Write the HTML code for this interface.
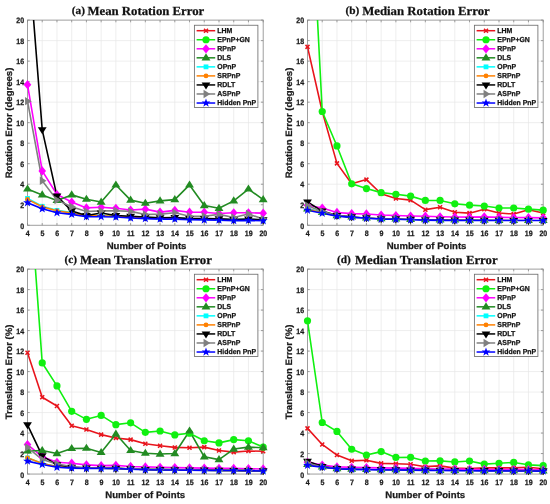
<!DOCTYPE html>
<html lang="en"><head><meta charset="utf-8"><title>PnP error comparison</title>
<style>
html,body{margin:0;padding:0;background:#fff;}
body{width:550px;height:504px;overflow:hidden;}
svg{display:block;}
text{text-rendering:geometricPrecision;stroke:#1a1a1a;stroke-width:0.25px;paint-order:stroke;}
.tk{font-family:"Liberation Sans",Arial,sans-serif;font-weight:bold;font-size:7.8px;fill:#1a1a1a;}
.al{font-family:"Liberation Sans",Arial,sans-serif;font-weight:bold;font-size:9.3px;fill:#1a1a1a;}
.lg{font-family:"Liberation Sans",Arial,sans-serif;font-weight:bold;font-size:7.2px;fill:#111;}
.tt{font-family:"Liberation Serif","Times New Roman",serif;font-weight:bold;font-size:12.35px;fill:#111;}
.tg{font-family:"Liberation Serif","Times New Roman",serif;font-weight:bold;font-size:11px;fill:#111;}
</style></head><body>
<svg width="550" height="504" viewBox="0 0 550 504">
<rect width="550" height="504" fill="#fff"/>
<defs><filter id="soft" x="0" y="0" width="100%" height="100%" filterUnits="userSpaceOnUse" color-interpolation-filters="sRGB"><feGaussianBlur stdDeviation="0.38"/></filter></defs>
<g filter="url(#soft)">
<rect width="550" height="504" fill="#fff"/>
<g id="plot-a">
<clipPath id="clipa"><rect x="27.5" y="20.1" width="235.68" height="205.15"/></clipPath>
<path d="M42.23 20.1V225.25M56.96 20.1V225.25M71.69 20.1V225.25M86.42 20.1V225.25M101.15 20.1V225.25M115.88 20.1V225.25M130.61 20.1V225.25M145.34 20.1V225.25M160.07 20.1V225.25M174.8 20.1V225.25M189.53 20.1V225.25M204.26 20.1V225.25M218.99 20.1V225.25M233.72 20.1V225.25M248.45 20.1V225.25M27.5 204.74H263.18M27.5 184.22H263.18M27.5 163.7H263.18M27.5 143.19H263.18M27.5 122.67H263.18M27.5 102.16H263.18M27.5 81.64H263.18M27.5 61.13H263.18M27.5 40.62H263.18" stroke="#e7e7e7" stroke-width="0.7" fill="none"/>
<rect x="27.5" y="20.1" width="235.68" height="205.15" fill="none" stroke="#8e8e8e" stroke-width="0.85"/>
<path d="M27.5 225.25v-2.2M27.5 20.1v2.2M42.23 225.25v-2.2M42.23 20.1v2.2M56.96 225.25v-2.2M56.96 20.1v2.2M71.69 225.25v-2.2M71.69 20.1v2.2M86.42 225.25v-2.2M86.42 20.1v2.2M101.15 225.25v-2.2M101.15 20.1v2.2M115.88 225.25v-2.2M115.88 20.1v2.2M130.61 225.25v-2.2M130.61 20.1v2.2M145.34 225.25v-2.2M145.34 20.1v2.2M160.07 225.25v-2.2M160.07 20.1v2.2M174.8 225.25v-2.2M174.8 20.1v2.2M189.53 225.25v-2.2M189.53 20.1v2.2M204.26 225.25v-2.2M204.26 20.1v2.2M218.99 225.25v-2.2M218.99 20.1v2.2M233.72 225.25v-2.2M233.72 20.1v2.2M248.45 225.25v-2.2M248.45 20.1v2.2M263.18 225.25v-2.2M263.18 20.1v2.2M27.5 225.25h2.2M263.18 225.25h-2.2M27.5 204.74h2.2M263.18 204.74h-2.2M27.5 184.22h2.2M263.18 184.22h-2.2M27.5 163.7h2.2M263.18 163.7h-2.2M27.5 143.19h2.2M263.18 143.19h-2.2M27.5 122.67h2.2M263.18 122.67h-2.2M27.5 102.16h2.2M263.18 102.16h-2.2M27.5 81.64h2.2M263.18 81.64h-2.2M27.5 61.13h2.2M263.18 61.13h-2.2M27.5 40.62h2.2M263.18 40.62h-2.2M27.5 20.1h2.2M263.18 20.1h-2.2" stroke="#888" stroke-width="0.8" fill="none"/>
<text class="tk" transform="translate(27.7 236.15) scale(0.905 1)" text-anchor="middle">4</text>
<text class="tk" transform="translate(42.43 236.15) scale(0.905 1)" text-anchor="middle">5</text>
<text class="tk" transform="translate(57.16 236.15) scale(0.905 1)" text-anchor="middle">6</text>
<text class="tk" transform="translate(71.89 236.15) scale(0.905 1)" text-anchor="middle">7</text>
<text class="tk" transform="translate(86.62 236.15) scale(0.905 1)" text-anchor="middle">8</text>
<text class="tk" transform="translate(101.35 236.15) scale(0.905 1)" text-anchor="middle">9</text>
<text class="tk" transform="translate(116.08 236.15) scale(0.905 1)" text-anchor="middle">10</text>
<text class="tk" transform="translate(130.81 236.15) scale(0.905 1)" text-anchor="middle">11</text>
<text class="tk" transform="translate(145.54 236.15) scale(0.905 1)" text-anchor="middle">12</text>
<text class="tk" transform="translate(160.27 236.15) scale(0.905 1)" text-anchor="middle">13</text>
<text class="tk" transform="translate(175 236.15) scale(0.905 1)" text-anchor="middle">14</text>
<text class="tk" transform="translate(189.73 236.15) scale(0.905 1)" text-anchor="middle">15</text>
<text class="tk" transform="translate(204.46 236.15) scale(0.905 1)" text-anchor="middle">16</text>
<text class="tk" transform="translate(219.19 236.15) scale(0.905 1)" text-anchor="middle">17</text>
<text class="tk" transform="translate(233.92 236.15) scale(0.905 1)" text-anchor="middle">18</text>
<text class="tk" transform="translate(248.65 236.15) scale(0.905 1)" text-anchor="middle">19</text>
<text class="tk" transform="translate(263.38 236.15) scale(0.905 1)" text-anchor="middle">20</text>
<text class="tk" transform="translate(24.1 229.35) scale(0.905 1)" text-anchor="end">0</text>
<text class="tk" transform="translate(24.1 207.94) scale(0.905 1)" text-anchor="end">2</text>
<text class="tk" transform="translate(24.1 187.42) scale(0.905 1)" text-anchor="end">4</text>
<text class="tk" transform="translate(24.1 166.9) scale(0.905 1)" text-anchor="end">6</text>
<text class="tk" transform="translate(24.1 146.39) scale(0.905 1)" text-anchor="end">8</text>
<text class="tk" transform="translate(24.1 125.88) scale(0.905 1)" text-anchor="end">10</text>
<text class="tk" transform="translate(24.1 105.36) scale(0.905 1)" text-anchor="end">12</text>
<text class="tk" transform="translate(24.1 84.84) scale(0.905 1)" text-anchor="end">14</text>
<text class="tk" transform="translate(24.1 64.33) scale(0.905 1)" text-anchor="end">16</text>
<text class="tk" transform="translate(24.1 43.82) scale(0.905 1)" text-anchor="end">18</text>
<text class="tk" transform="translate(24.1 23.3) scale(0.905 1)" text-anchor="end">20</text>
<text class="al" transform="translate(146.54 248.75) scale(1.03 1)" text-anchor="middle">Number of Points</text>
<text class="al" transform="translate(11.6 122.97) rotate(-90) scale(1.03 1)" text-anchor="middle">Rotation Error (degrees)</text>
<text class="tg" transform="translate(71.8 14.2) scale(1.03 1)">(a)</text>
<text class="tt" transform="translate(87.4 15.1) scale(1.035 1)">Mean Rotation Error</text>
<g clip-path="url(#clipa)">
<polyline points="27.5,84.72 42.23,170.89 56.96,194.48 71.69,202.07 86.42,207.91 101.15,207.3 115.88,208.33 130.61,210.07 145.34,209.15 160.07,212.12 174.8,210.38 189.53,212.22 204.26,212.22 218.99,213.45 233.72,212.74 248.45,212.74 263.18,213.15" fill="none" stroke="#ff00ff" stroke-width="1.6" stroke-linejoin="round"/>
<polyline points="27.5,189.04 42.23,194.89 56.96,200.43 71.69,194.89 86.42,199.2 101.15,202.07 115.88,184.94 130.61,200.12 145.34,203.2 160.07,200.84 174.8,199.61 189.53,184.94 204.26,205.56 218.99,208.33 233.72,200.84 248.45,189.04 263.18,199.61" fill="none" stroke="#228b22" stroke-width="1.6" stroke-linejoin="round"/>
<polyline points="27.5,198.38 42.23,206.27 56.96,210.38 71.69,212.43 86.42,215.51 101.15,215.51 115.88,216.02 130.61,217.04 145.34,217.56 160.07,218.07 174.8,218.07 189.53,218.89 204.26,218.89 218.99,219.1 233.72,219.61 248.45,219.3 263.18,219.92" fill="none" stroke="#00ffff" stroke-width="1.6" stroke-linejoin="round"/>
<polyline points="27.5,199.4 42.23,206.79 56.96,210.89 71.69,212.94 86.42,215.71 101.15,215.71 115.88,216.22 130.61,217.25 145.34,217.76 160.07,218.27 174.8,218.27 189.53,219.1 204.26,219.1 218.99,219.3 233.72,219.81 248.45,219.51 263.18,220.12" fill="none" stroke="#ff8000" stroke-width="1.6" stroke-linejoin="round"/>
<polyline points="27.5,-57.86 42.23,129.86 56.96,196.12 71.69,210.89 86.42,215.51 101.15,212.94 115.88,215.51 130.61,216.22 145.34,217.04 160.07,217.86 174.8,217.56 189.53,218.58 204.26,218.48 218.99,218.89 233.72,219.61 248.45,219.1 263.18,219.92" fill="none" stroke="#000000" stroke-width="1.6" stroke-linejoin="round"/>
<polyline points="27.5,101.13 42.23,180.73 56.96,200.12 71.69,206.79 86.42,211.5 101.15,210.89 115.88,210.68 130.61,211.4 145.34,214.48 160.07,214.17 174.8,212.74 189.53,216.22 204.26,216.22 218.99,214.38 233.72,217.45 248.45,213.97 263.18,219.1" fill="none" stroke="#808080" stroke-width="1.6" stroke-linejoin="round"/>
<polyline points="27.5,202.68 42.23,208.84 56.96,212.74 71.69,214.38 86.42,216.74 101.15,216.74 115.88,217.04 130.61,218.07 145.34,218.58 160.07,219.1 174.8,219.1 189.53,219.81 204.26,219.92 218.99,220.12 233.72,220.63 248.45,220.33 263.18,220.74" fill="none" stroke="#0000ff" stroke-width="1.6" stroke-linejoin="round"/>
</g>
<g><path d="M27.5 80.12L31.3 84.72L27.5 89.32L23.7 84.72Z" fill="#ff00ff"/><path d="M42.23 166.29L46.03 170.89L42.23 175.49L38.43 170.89Z" fill="#ff00ff"/><path d="M56.96 189.88L60.76 194.48L56.96 199.08L53.16 194.48Z" fill="#ff00ff"/><path d="M71.69 197.47L75.49 202.07L71.69 206.67L67.89 202.07Z" fill="#ff00ff"/><path d="M86.42 203.31L90.22 207.91L86.42 212.51L82.62 207.91Z" fill="#ff00ff"/><path d="M101.15 202.7L104.95 207.3L101.15 211.9L97.35 207.3Z" fill="#ff00ff"/><path d="M115.88 203.73L119.68 208.33L115.88 212.93L112.08 208.33Z" fill="#ff00ff"/><path d="M130.61 205.47L134.41 210.07L130.61 214.67L126.81 210.07Z" fill="#ff00ff"/><path d="M145.34 204.55L149.14 209.15L145.34 213.75L141.54 209.15Z" fill="#ff00ff"/><path d="M160.07 207.52L163.87 212.12L160.07 216.72L156.27 212.12Z" fill="#ff00ff"/><path d="M174.8 205.78L178.6 210.38L174.8 214.98L171 210.38Z" fill="#ff00ff"/><path d="M189.53 207.62L193.33 212.22L189.53 216.82L185.73 212.22Z" fill="#ff00ff"/><path d="M204.26 207.62L208.06 212.22L204.26 216.82L200.46 212.22Z" fill="#ff00ff"/><path d="M218.99 208.85L222.79 213.45L218.99 218.05L215.19 213.45Z" fill="#ff00ff"/><path d="M233.72 208.14L237.52 212.74L233.72 217.34L229.92 212.74Z" fill="#ff00ff"/><path d="M248.45 208.14L252.25 212.74L248.45 217.34L244.65 212.74Z" fill="#ff00ff"/><path d="M263.18 208.55L266.98 213.15L263.18 217.75L259.38 213.15Z" fill="#ff00ff"/></g>
<g><path d="M27.5 184.5L31.95 191.62L23.05 191.62Z" fill="#228b22"/><path d="M42.23 190.35L46.68 197.47L37.78 197.47Z" fill="#228b22"/><path d="M56.96 195.89L61.41 203.01L52.51 203.01Z" fill="#228b22"/><path d="M71.69 190.35L76.14 197.47L67.24 197.47Z" fill="#228b22"/><path d="M86.42 194.66L90.87 201.78L81.97 201.78Z" fill="#228b22"/><path d="M101.15 197.53L105.6 204.65L96.7 204.65Z" fill="#228b22"/><path d="M115.88 180.4L120.33 187.52L111.43 187.52Z" fill="#228b22"/><path d="M130.61 195.58L135.06 202.7L126.16 202.7Z" fill="#228b22"/><path d="M145.34 198.66L149.79 205.78L140.89 205.78Z" fill="#228b22"/><path d="M160.07 196.3L164.52 203.42L155.62 203.42Z" fill="#228b22"/><path d="M174.8 195.07L179.25 202.19L170.35 202.19Z" fill="#228b22"/><path d="M189.53 180.4L193.98 187.52L185.08 187.52Z" fill="#228b22"/><path d="M204.26 201.02L208.71 208.14L199.81 208.14Z" fill="#228b22"/><path d="M218.99 203.79L223.44 210.91L214.54 210.91Z" fill="#228b22"/><path d="M233.72 196.3L238.17 203.42L229.27 203.42Z" fill="#228b22"/><path d="M248.45 184.5L252.9 191.62L244 191.62Z" fill="#228b22"/><path d="M263.18 195.07L267.63 202.19L258.73 202.19Z" fill="#228b22"/></g>
<g><rect x="25.1" y="195.98" width="4.8" height="4.8" fill="#00ffff"/><rect x="39.83" y="203.87" width="4.8" height="4.8" fill="#00ffff"/><rect x="54.56" y="207.98" width="4.8" height="4.8" fill="#00ffff"/><rect x="69.29" y="210.03" width="4.8" height="4.8" fill="#00ffff"/><rect x="84.02" y="213.11" width="4.8" height="4.8" fill="#00ffff"/><rect x="98.75" y="213.11" width="4.8" height="4.8" fill="#00ffff"/><rect x="113.48" y="213.62" width="4.8" height="4.8" fill="#00ffff"/><rect x="128.21" y="214.64" width="4.8" height="4.8" fill="#00ffff"/><rect x="142.94" y="215.16" width="4.8" height="4.8" fill="#00ffff"/><rect x="157.67" y="215.67" width="4.8" height="4.8" fill="#00ffff"/><rect x="172.4" y="215.67" width="4.8" height="4.8" fill="#00ffff"/><rect x="187.13" y="216.49" width="4.8" height="4.8" fill="#00ffff"/><rect x="201.86" y="216.49" width="4.8" height="4.8" fill="#00ffff"/><rect x="216.59" y="216.7" width="4.8" height="4.8" fill="#00ffff"/><rect x="231.32" y="217.21" width="4.8" height="4.8" fill="#00ffff"/><rect x="246.05" y="216.9" width="4.8" height="4.8" fill="#00ffff"/><rect x="260.78" y="217.52" width="4.8" height="4.8" fill="#00ffff"/></g>
<g><circle cx="27.5" cy="199.4" r="2.4" fill="#ff8000"/><circle cx="42.23" cy="206.79" r="2.4" fill="#ff8000"/><circle cx="56.96" cy="210.89" r="2.4" fill="#ff8000"/><circle cx="71.69" cy="212.94" r="2.4" fill="#ff8000"/><circle cx="86.42" cy="215.71" r="2.4" fill="#ff8000"/><circle cx="101.15" cy="215.71" r="2.4" fill="#ff8000"/><circle cx="115.88" cy="216.22" r="2.4" fill="#ff8000"/><circle cx="130.61" cy="217.25" r="2.4" fill="#ff8000"/><circle cx="145.34" cy="217.76" r="2.4" fill="#ff8000"/><circle cx="160.07" cy="218.27" r="2.4" fill="#ff8000"/><circle cx="174.8" cy="218.27" r="2.4" fill="#ff8000"/><circle cx="189.53" cy="219.1" r="2.4" fill="#ff8000"/><circle cx="204.26" cy="219.1" r="2.4" fill="#ff8000"/><circle cx="218.99" cy="219.3" r="2.4" fill="#ff8000"/><circle cx="233.72" cy="219.81" r="2.4" fill="#ff8000"/><circle cx="248.45" cy="219.51" r="2.4" fill="#ff8000"/><circle cx="263.18" cy="220.12" r="2.4" fill="#ff8000"/></g>
<g><path d="M42.23 134.34L46.63 127.3L37.83 127.3Z" fill="#000000"/><path d="M56.96 200.61L61.36 193.57L52.56 193.57Z" fill="#000000"/><path d="M71.69 215.38L76.09 208.34L67.29 208.34Z" fill="#000000"/><path d="M86.42 219.99L90.82 212.95L82.02 212.95Z" fill="#000000"/><path d="M101.15 217.43L105.55 210.39L96.75 210.39Z" fill="#000000"/><path d="M115.88 219.99L120.28 212.95L111.48 212.95Z" fill="#000000"/><path d="M130.61 220.71L135.01 213.67L126.21 213.67Z" fill="#000000"/><path d="M145.34 221.53L149.74 214.49L140.94 214.49Z" fill="#000000"/><path d="M160.07 222.35L164.47 215.31L155.67 215.31Z" fill="#000000"/><path d="M174.8 222.04L179.2 215L170.4 215Z" fill="#000000"/><path d="M189.53 223.07L193.93 216.03L185.13 216.03Z" fill="#000000"/><path d="M204.26 222.97L208.66 215.93L199.86 215.93Z" fill="#000000"/><path d="M218.99 223.38L223.39 216.34L214.59 216.34Z" fill="#000000"/><path d="M233.72 224.1L238.12 217.06L229.32 217.06Z" fill="#000000"/><path d="M248.45 223.58L252.85 216.54L244.05 216.54Z" fill="#000000"/><path d="M263.18 224.4L267.58 217.36L258.78 217.36Z" fill="#000000"/></g>
<g><path d="M31.78 101.13L25.06 96.93L25.06 105.33Z" fill="#808080"/><path d="M46.51 180.73L39.79 176.53L39.79 184.93Z" fill="#808080"/><path d="M61.24 200.12L54.52 195.92L54.52 204.32Z" fill="#808080"/><path d="M75.97 206.79L69.25 202.59L69.25 210.99Z" fill="#808080"/><path d="M90.7 211.5L83.98 207.3L83.98 215.7Z" fill="#808080"/><path d="M105.43 210.89L98.71 206.69L98.71 215.09Z" fill="#808080"/><path d="M120.16 210.68L113.44 206.48L113.44 214.88Z" fill="#808080"/><path d="M134.89 211.4L128.17 207.2L128.17 215.6Z" fill="#808080"/><path d="M149.62 214.48L142.9 210.28L142.9 218.68Z" fill="#808080"/><path d="M164.35 214.17L157.63 209.97L157.63 218.37Z" fill="#808080"/><path d="M179.08 212.74L172.36 208.54L172.36 216.94Z" fill="#808080"/><path d="M193.81 216.22L187.09 212.02L187.09 220.42Z" fill="#808080"/><path d="M208.54 216.22L201.82 212.02L201.82 220.42Z" fill="#808080"/><path d="M223.27 214.38L216.55 210.18L216.55 218.58Z" fill="#808080"/><path d="M238 217.45L231.28 213.25L231.28 221.65Z" fill="#808080"/><path d="M252.73 213.97L246.01 209.77L246.01 218.17Z" fill="#808080"/><path d="M267.46 219.1L260.74 214.9L260.74 223.3Z" fill="#808080"/></g>
<g><path d="M27.5 198.08L28.58 201.19L31.87 201.26L29.25 203.25L30.2 206.4L27.5 204.52L24.8 206.4L25.75 203.25L23.13 201.26L26.42 201.19Z" fill="#0000ff"/><path d="M42.23 204.24L43.31 207.35L46.6 207.42L43.98 209.41L44.93 212.56L42.23 210.68L39.53 212.56L40.48 209.41L37.86 207.42L41.15 207.35Z" fill="#0000ff"/><path d="M56.96 208.14L58.04 211.25L61.33 211.31L58.71 213.3L59.66 216.46L56.96 214.58L54.26 216.46L55.21 213.3L52.59 211.31L55.88 211.25Z" fill="#0000ff"/><path d="M71.69 209.78L72.77 212.89L76.06 212.96L73.44 214.95L74.39 218.1L71.69 216.22L68.99 218.1L69.94 214.95L67.32 212.96L70.61 212.89Z" fill="#0000ff"/><path d="M86.42 212.14L87.5 215.25L90.79 215.31L88.17 217.3L89.12 220.46L86.42 218.58L83.72 220.46L84.67 217.3L82.05 215.31L85.34 215.25Z" fill="#0000ff"/><path d="M101.15 212.14L102.23 215.25L105.52 215.31L102.9 217.3L103.85 220.46L101.15 218.58L98.45 220.46L99.4 217.3L96.78 215.31L100.07 215.25Z" fill="#0000ff"/><path d="M115.88 212.44L116.96 215.56L120.25 215.62L117.63 217.61L118.58 220.77L115.88 218.88L113.18 220.77L114.13 217.61L111.51 215.62L114.8 215.56Z" fill="#0000ff"/><path d="M130.61 213.47L131.69 216.58L134.98 216.65L132.36 218.64L133.31 221.79L130.61 219.91L127.91 221.79L128.86 218.64L126.24 216.65L129.53 216.58Z" fill="#0000ff"/><path d="M145.34 213.98L146.42 217.09L149.71 217.16L147.09 219.15L148.04 222.3L145.34 220.42L142.64 222.3L143.59 219.15L140.97 217.16L144.26 217.09Z" fill="#0000ff"/><path d="M160.07 214.5L161.15 217.61L164.44 217.67L161.82 219.66L162.77 222.82L160.07 220.94L157.37 222.82L158.32 219.66L155.7 217.67L158.99 217.61Z" fill="#0000ff"/><path d="M174.8 214.5L175.88 217.61L179.17 217.67L176.55 219.66L177.5 222.82L174.8 220.94L172.1 222.82L173.05 219.66L170.43 217.67L173.72 217.61Z" fill="#0000ff"/><path d="M189.53 215.21L190.61 218.32L193.9 218.39L191.28 220.38L192.23 223.54L189.53 221.65L186.83 223.54L187.78 220.38L185.16 218.39L188.45 218.32Z" fill="#0000ff"/><path d="M204.26 215.32L205.34 218.43L208.63 218.49L206.01 220.48L206.96 223.64L204.26 221.76L201.56 223.64L202.51 220.48L199.89 218.49L203.18 218.43Z" fill="#0000ff"/><path d="M218.99 215.52L220.07 218.63L223.36 218.7L220.74 220.69L221.69 223.84L218.99 221.96L216.29 223.84L217.24 220.69L214.62 218.7L217.91 218.63Z" fill="#0000ff"/><path d="M233.72 216.03L234.8 219.15L238.09 219.21L235.47 221.2L236.42 224.36L233.72 222.47L231.02 224.36L231.97 221.2L229.35 219.21L232.64 219.15Z" fill="#0000ff"/><path d="M248.45 215.73L249.53 218.84L252.82 218.9L250.2 220.89L251.15 224.05L248.45 222.17L245.75 224.05L246.7 220.89L244.08 218.9L247.37 218.84Z" fill="#0000ff"/><path d="M263.18 216.14L264.26 219.25L267.55 219.32L264.93 221.31L265.88 224.46L263.18 222.58L260.48 224.46L261.43 221.31L258.81 219.32L262.1 219.25Z" fill="#0000ff"/></g>
<rect x="194.4" y="25.25" width="63.5" height="82.2" fill="#fff" stroke="#6e6e6e" stroke-width="0.85"/>
<path d="M196.6 30.7H215.2" stroke="#e8141c" stroke-width="1.5"/>
<path d="M204 28.7L208 32.7M204 32.7L208 28.7" stroke="#e8141c" stroke-width="1.5" fill="none"/>
<text class="lg" transform="translate(217.3 33.05) scale(0.965 1)">LHM</text>
<path d="M196.6 39.74H215.2" stroke="#10f010" stroke-width="1.5"/>
<circle cx="206" cy="39.74" r="3.6" fill="#10f010"/>
<text class="lg" transform="translate(217.3 42.09) scale(0.965 1)">EPnP+GN</text>
<path d="M196.6 48.78H215.2" stroke="#ff00ff" stroke-width="1.5"/>
<path d="M206 44.18L209.8 48.78L206 53.38L202.2 48.78Z" fill="#ff00ff"/>
<text class="lg" transform="translate(217.3 51.13) scale(0.965 1)">RPnP</text>
<path d="M196.6 57.82H215.2" stroke="#228b22" stroke-width="1.5"/>
<path d="M206 53.28L210.45 60.4L201.55 60.4Z" fill="#228b22"/>
<text class="lg" transform="translate(217.3 60.17) scale(0.965 1)">DLS</text>
<path d="M196.6 66.86H215.2" stroke="#00ffff" stroke-width="1.5"/>
<rect x="203.6" y="64.46" width="4.8" height="4.8" fill="#00ffff"/>
<text class="lg" transform="translate(217.3 69.21) scale(0.965 1)">OPnP</text>
<path d="M196.6 75.9H215.2" stroke="#ff8000" stroke-width="1.5"/>
<circle cx="206" cy="75.9" r="2.4" fill="#ff8000"/>
<text class="lg" transform="translate(217.3 78.25) scale(0.965 1)">SRPnP</text>
<path d="M196.6 84.94H215.2" stroke="#000000" stroke-width="1.5"/>
<path d="M206 89.43L210.4 82.39L201.6 82.39Z" fill="#000000"/>
<text class="lg" transform="translate(217.3 87.29) scale(0.965 1)">RDLT</text>
<path d="M196.6 93.98H215.2" stroke="#808080" stroke-width="1.5"/>
<path d="M210.28 93.98L203.56 89.78L203.56 98.18Z" fill="#808080"/>
<text class="lg" transform="translate(217.3 96.33) scale(0.965 1)">ASPnP</text>
<path d="M196.6 103.02H215.2" stroke="#0000ff" stroke-width="1.5"/>
<path d="M206 98.42L207.08 101.53L210.37 101.6L207.75 103.59L208.7 106.74L206 104.86L203.3 106.74L204.25 103.59L201.63 101.6L204.92 101.53Z" fill="#0000ff"/>
<text class="lg" transform="translate(217.3 105.37) scale(0.965 1)">Hidden PnP</text>
</g>
<g id="plot-b">
<clipPath id="clipb"><rect x="307.5" y="20.1" width="235.68" height="205.15"/></clipPath>
<path d="M322.23 20.1V225.25M336.96 20.1V225.25M351.69 20.1V225.25M366.42 20.1V225.25M381.15 20.1V225.25M395.88 20.1V225.25M410.61 20.1V225.25M425.34 20.1V225.25M440.07 20.1V225.25M454.8 20.1V225.25M469.53 20.1V225.25M484.26 20.1V225.25M498.99 20.1V225.25M513.72 20.1V225.25M528.45 20.1V225.25M307.5 204.74H543.18M307.5 184.22H543.18M307.5 163.7H543.18M307.5 143.19H543.18M307.5 122.67H543.18M307.5 102.16H543.18M307.5 81.64H543.18M307.5 61.13H543.18M307.5 40.62H543.18" stroke="#e7e7e7" stroke-width="0.7" fill="none"/>
<rect x="307.5" y="20.1" width="235.68" height="205.15" fill="none" stroke="#8e8e8e" stroke-width="0.85"/>
<path d="M307.5 225.25v-2.2M307.5 20.1v2.2M322.23 225.25v-2.2M322.23 20.1v2.2M336.96 225.25v-2.2M336.96 20.1v2.2M351.69 225.25v-2.2M351.69 20.1v2.2M366.42 225.25v-2.2M366.42 20.1v2.2M381.15 225.25v-2.2M381.15 20.1v2.2M395.88 225.25v-2.2M395.88 20.1v2.2M410.61 225.25v-2.2M410.61 20.1v2.2M425.34 225.25v-2.2M425.34 20.1v2.2M440.07 225.25v-2.2M440.07 20.1v2.2M454.8 225.25v-2.2M454.8 20.1v2.2M469.53 225.25v-2.2M469.53 20.1v2.2M484.26 225.25v-2.2M484.26 20.1v2.2M498.99 225.25v-2.2M498.99 20.1v2.2M513.72 225.25v-2.2M513.72 20.1v2.2M528.45 225.25v-2.2M528.45 20.1v2.2M543.18 225.25v-2.2M543.18 20.1v2.2M307.5 225.25h2.2M543.18 225.25h-2.2M307.5 204.74h2.2M543.18 204.74h-2.2M307.5 184.22h2.2M543.18 184.22h-2.2M307.5 163.7h2.2M543.18 163.7h-2.2M307.5 143.19h2.2M543.18 143.19h-2.2M307.5 122.67h2.2M543.18 122.67h-2.2M307.5 102.16h2.2M543.18 102.16h-2.2M307.5 81.64h2.2M543.18 81.64h-2.2M307.5 61.13h2.2M543.18 61.13h-2.2M307.5 40.62h2.2M543.18 40.62h-2.2M307.5 20.1h2.2M543.18 20.1h-2.2" stroke="#888" stroke-width="0.8" fill="none"/>
<text class="tk" transform="translate(307.7 236.15) scale(0.905 1)" text-anchor="middle">4</text>
<text class="tk" transform="translate(322.43 236.15) scale(0.905 1)" text-anchor="middle">5</text>
<text class="tk" transform="translate(337.16 236.15) scale(0.905 1)" text-anchor="middle">6</text>
<text class="tk" transform="translate(351.89 236.15) scale(0.905 1)" text-anchor="middle">7</text>
<text class="tk" transform="translate(366.62 236.15) scale(0.905 1)" text-anchor="middle">8</text>
<text class="tk" transform="translate(381.35 236.15) scale(0.905 1)" text-anchor="middle">9</text>
<text class="tk" transform="translate(396.08 236.15) scale(0.905 1)" text-anchor="middle">10</text>
<text class="tk" transform="translate(410.81 236.15) scale(0.905 1)" text-anchor="middle">11</text>
<text class="tk" transform="translate(425.54 236.15) scale(0.905 1)" text-anchor="middle">12</text>
<text class="tk" transform="translate(440.27 236.15) scale(0.905 1)" text-anchor="middle">13</text>
<text class="tk" transform="translate(455 236.15) scale(0.905 1)" text-anchor="middle">14</text>
<text class="tk" transform="translate(469.73 236.15) scale(0.905 1)" text-anchor="middle">15</text>
<text class="tk" transform="translate(484.46 236.15) scale(0.905 1)" text-anchor="middle">16</text>
<text class="tk" transform="translate(499.19 236.15) scale(0.905 1)" text-anchor="middle">17</text>
<text class="tk" transform="translate(513.92 236.15) scale(0.905 1)" text-anchor="middle">18</text>
<text class="tk" transform="translate(528.65 236.15) scale(0.905 1)" text-anchor="middle">19</text>
<text class="tk" transform="translate(543.38 236.15) scale(0.905 1)" text-anchor="middle">20</text>
<text class="tk" transform="translate(304.1 229.35) scale(0.905 1)" text-anchor="end">0</text>
<text class="tk" transform="translate(304.1 207.94) scale(0.905 1)" text-anchor="end">2</text>
<text class="tk" transform="translate(304.1 187.42) scale(0.905 1)" text-anchor="end">4</text>
<text class="tk" transform="translate(304.1 166.9) scale(0.905 1)" text-anchor="end">6</text>
<text class="tk" transform="translate(304.1 146.39) scale(0.905 1)" text-anchor="end">8</text>
<text class="tk" transform="translate(304.1 125.88) scale(0.905 1)" text-anchor="end">10</text>
<text class="tk" transform="translate(304.1 105.36) scale(0.905 1)" text-anchor="end">12</text>
<text class="tk" transform="translate(304.1 84.84) scale(0.905 1)" text-anchor="end">14</text>
<text class="tk" transform="translate(304.1 64.33) scale(0.905 1)" text-anchor="end">16</text>
<text class="tk" transform="translate(304.1 43.82) scale(0.905 1)" text-anchor="end">18</text>
<text class="tk" transform="translate(304.1 23.3) scale(0.905 1)" text-anchor="end">20</text>
<text class="al" transform="translate(426.54 248.75) scale(1.03 1)" text-anchor="middle">Number of Points</text>
<text class="al" transform="translate(291.6 122.97) rotate(-90) scale(1.03 1)" text-anchor="middle">Rotation Error (degrees)</text>
<text class="tg" transform="translate(345.4 14.2) scale(1.03 1)">(b)</text>
<text class="tt" transform="translate(362.2 15.1) scale(1.035 1)">Median Rotation Error</text>
<g clip-path="url(#clipb)">
<polyline points="307.5,46.87 322.23,111.49 336.96,163.4 351.69,183.81 366.42,179.6 381.15,193.76 395.88,198.48 410.61,200.12 425.34,209.66 440.07,207.3 454.8,212.22 469.53,213.15 484.26,209.15 498.99,212.94 513.72,214.07 528.45,209.66 543.18,212.94" fill="none" stroke="#e8141c" stroke-width="1.6" stroke-linejoin="round"/>
<polyline points="307.5,-174.79 322.23,111.49 336.96,145.96 351.69,183.81 366.42,188.53 381.15,192.63 395.88,194.27 410.61,196.12 425.34,200.43 440.07,200.43 454.8,203.81 469.53,205.15 484.26,206.07 498.99,208.02 513.72,208.02 528.45,209.15 543.18,210.17" fill="none" stroke="#10f010" stroke-width="1.6" stroke-linejoin="round"/>
<polyline points="307.5,205.25 322.23,208.02 336.96,212.43 351.69,213.66 366.42,213.97 381.15,214.99 395.88,215.51 410.61,216.02 425.34,216.22 440.07,216.74 454.8,217.04 469.53,217.15 484.26,216.84 498.99,217.35 513.72,217.56 528.45,217.66 543.18,217.86" fill="none" stroke="#ff00ff" stroke-width="1.6" stroke-linejoin="round"/>
<polyline points="307.5,208.84 322.23,212.43 336.96,215.71 351.69,216.94" fill="none" stroke="#228b22" stroke-width="1.6" stroke-linejoin="round"/>
<polyline points="351.69,216.94 366.42,217.86 381.15,218.69 395.88,218.89 410.61,219.4 425.34,219.71 440.07,219.92 454.8,220.02 469.53,220.12 484.26,220.22 498.99,220.33 513.72,220.43 528.45,220.43 543.18,220.53" fill="none" stroke="#228b22" stroke-width="0.8" stroke-linejoin="round"/>
<polyline points="307.5,208.84 322.23,212.43 336.96,215.71 351.69,216.94" fill="none" stroke="#00ffff" stroke-width="1.6" stroke-linejoin="round"/>
<polyline points="351.69,216.94 366.42,217.86 381.15,218.69 395.88,218.89 410.61,219.4 425.34,219.71 440.07,219.92 454.8,220.02 469.53,220.12 484.26,220.22 498.99,220.33 513.72,220.43 528.45,220.43 543.18,220.53" fill="none" stroke="#00ffff" stroke-width="0.8" stroke-linejoin="round"/>
<polyline points="307.5,209.35 322.23,212.74 336.96,215.71 351.69,216.94" fill="none" stroke="#ff8000" stroke-width="1.6" stroke-linejoin="round"/>
<polyline points="351.69,216.94 366.42,217.86 381.15,218.69 395.88,218.89 410.61,219.4 425.34,219.71 440.07,219.92 454.8,220.02 469.53,220.12 484.26,220.22 498.99,220.33 513.72,220.43 528.45,220.43 543.18,220.53" fill="none" stroke="#ff8000" stroke-width="0.8" stroke-linejoin="round"/>
<polyline points="307.5,201.97 322.23,211.09 336.96,215.51 351.69,216.84" fill="none" stroke="#000000" stroke-width="1.6" stroke-linejoin="round"/>
<polyline points="351.69,216.84 366.42,217.86 381.15,218.69 395.88,218.89 410.61,219.4 425.34,219.71 440.07,219.92 454.8,220.02 469.53,220.12 484.26,220.22 498.99,220.33 513.72,220.43 528.45,220.43 543.18,220.53" fill="none" stroke="#000000" stroke-width="0.8" stroke-linejoin="round"/>
<polyline points="307.5,205.76 322.23,211.61 336.96,215.51 351.69,216.84" fill="none" stroke="#808080" stroke-width="1.6" stroke-linejoin="round"/>
<polyline points="351.69,216.84 366.42,217.86 381.15,218.69 395.88,218.89 410.61,219.4 425.34,219.71 440.07,219.92 454.8,220.02 469.53,220.12 484.26,220.22 498.99,220.33 513.72,220.43 528.45,220.43 543.18,220.53" fill="none" stroke="#808080" stroke-width="0.8" stroke-linejoin="round"/>
<polyline points="307.5,210.27 322.23,213.25 336.96,216.12 351.69,217.35 366.42,218.27 381.15,219.1 395.88,219.3 410.61,219.81 425.34,220.12 440.07,220.33 454.8,220.43 469.53,220.53 484.26,220.53 498.99,220.53 513.72,220.53 528.45,220.53 543.18,220.53" fill="none" stroke="#0000ff" stroke-width="1.6" stroke-linejoin="round"/>
</g>
<g><path d="M305.5 44.87L309.5 48.87M305.5 48.87L309.5 44.87" stroke="#e8141c" stroke-width="1.5" fill="none"/><path d="M320.23 109.49L324.23 113.49M320.23 113.49L324.23 109.49" stroke="#e8141c" stroke-width="1.5" fill="none"/><path d="M334.96 161.4L338.96 165.4M334.96 165.4L338.96 161.4" stroke="#e8141c" stroke-width="1.5" fill="none"/><path d="M349.69 181.81L353.69 185.81M349.69 185.81L353.69 181.81" stroke="#e8141c" stroke-width="1.5" fill="none"/><path d="M364.42 177.6L368.42 181.6M364.42 181.6L368.42 177.6" stroke="#e8141c" stroke-width="1.5" fill="none"/><path d="M379.15 191.76L383.15 195.76M379.15 195.76L383.15 191.76" stroke="#e8141c" stroke-width="1.5" fill="none"/><path d="M393.88 196.48L397.88 200.48M393.88 200.48L397.88 196.48" stroke="#e8141c" stroke-width="1.5" fill="none"/><path d="M408.61 198.12L412.61 202.12M408.61 202.12L412.61 198.12" stroke="#e8141c" stroke-width="1.5" fill="none"/><path d="M423.34 207.66L427.34 211.66M423.34 211.66L427.34 207.66" stroke="#e8141c" stroke-width="1.5" fill="none"/><path d="M438.07 205.3L442.07 209.3M438.07 209.3L442.07 205.3" stroke="#e8141c" stroke-width="1.5" fill="none"/><path d="M452.8 210.22L456.8 214.22M452.8 214.22L456.8 210.22" stroke="#e8141c" stroke-width="1.5" fill="none"/><path d="M467.53 211.15L471.53 215.15M467.53 215.15L471.53 211.15" stroke="#e8141c" stroke-width="1.5" fill="none"/><path d="M482.26 207.15L486.26 211.15M482.26 211.15L486.26 207.15" stroke="#e8141c" stroke-width="1.5" fill="none"/><path d="M496.99 210.94L500.99 214.94M496.99 214.94L500.99 210.94" stroke="#e8141c" stroke-width="1.5" fill="none"/><path d="M511.72 212.07L515.72 216.07M511.72 216.07L515.72 212.07" stroke="#e8141c" stroke-width="1.5" fill="none"/><path d="M526.45 207.66L530.45 211.66M526.45 211.66L530.45 207.66" stroke="#e8141c" stroke-width="1.5" fill="none"/><path d="M541.18 210.94L545.18 214.94M541.18 214.94L545.18 210.94" stroke="#e8141c" stroke-width="1.5" fill="none"/></g>
<g><circle cx="322.23" cy="111.49" r="3.6" fill="#10f010"/><circle cx="336.96" cy="145.96" r="3.6" fill="#10f010"/><circle cx="351.69" cy="183.81" r="3.6" fill="#10f010"/><circle cx="366.42" cy="188.53" r="3.6" fill="#10f010"/><circle cx="381.15" cy="192.63" r="3.6" fill="#10f010"/><circle cx="395.88" cy="194.27" r="3.6" fill="#10f010"/><circle cx="410.61" cy="196.12" r="3.6" fill="#10f010"/><circle cx="425.34" cy="200.43" r="3.6" fill="#10f010"/><circle cx="440.07" cy="200.43" r="3.6" fill="#10f010"/><circle cx="454.8" cy="203.81" r="3.6" fill="#10f010"/><circle cx="469.53" cy="205.15" r="3.6" fill="#10f010"/><circle cx="484.26" cy="206.07" r="3.6" fill="#10f010"/><circle cx="498.99" cy="208.02" r="3.6" fill="#10f010"/><circle cx="513.72" cy="208.02" r="3.6" fill="#10f010"/><circle cx="528.45" cy="209.15" r="3.6" fill="#10f010"/><circle cx="543.18" cy="210.17" r="3.6" fill="#10f010"/></g>
<g><path d="M307.5 200.65L311.3 205.25L307.5 209.85L303.7 205.25Z" fill="#ff00ff"/><path d="M322.23 203.42L326.03 208.02L322.23 212.62L318.43 208.02Z" fill="#ff00ff"/><path d="M336.96 207.83L340.76 212.43L336.96 217.03L333.16 212.43Z" fill="#ff00ff"/><path d="M351.69 209.06L355.49 213.66L351.69 218.26L347.89 213.66Z" fill="#ff00ff"/><path d="M366.42 209.37L370.22 213.97L366.42 218.57L362.62 213.97Z" fill="#ff00ff"/><path d="M381.15 210.39L384.95 214.99L381.15 219.59L377.35 214.99Z" fill="#ff00ff"/><path d="M395.88 210.91L399.68 215.51L395.88 220.11L392.08 215.51Z" fill="#ff00ff"/><path d="M410.61 211.42L414.41 216.02L410.61 220.62L406.81 216.02Z" fill="#ff00ff"/><path d="M425.34 211.62L429.14 216.22L425.34 220.82L421.54 216.22Z" fill="#ff00ff"/><path d="M440.07 212.14L443.87 216.74L440.07 221.34L436.27 216.74Z" fill="#ff00ff"/><path d="M454.8 212.44L458.6 217.04L454.8 221.64L451 217.04Z" fill="#ff00ff"/><path d="M469.53 212.55L473.33 217.15L469.53 221.75L465.73 217.15Z" fill="#ff00ff"/><path d="M484.26 212.24L488.06 216.84L484.26 221.44L480.46 216.84Z" fill="#ff00ff"/><path d="M498.99 212.75L502.79 217.35L498.99 221.95L495.19 217.35Z" fill="#ff00ff"/><path d="M513.72 212.96L517.52 217.56L513.72 222.16L509.92 217.56Z" fill="#ff00ff"/><path d="M528.45 213.06L532.25 217.66L528.45 222.26L524.65 217.66Z" fill="#ff00ff"/><path d="M543.18 213.26L546.98 217.86L543.18 222.46L539.38 217.86Z" fill="#ff00ff"/></g>
<g><path d="M307.5 204.3L311.95 211.42L303.05 211.42Z" fill="#228b22"/><path d="M322.23 207.89L326.68 215.01L317.78 215.01Z" fill="#228b22"/><path d="M336.96 211.17L341.41 218.29L332.51 218.29Z" fill="#228b22"/><path d="M351.69 212.4L356.14 219.52L347.24 219.52Z" fill="#228b22"/><path d="M366.42 213.33L370.87 220.45L361.97 220.45Z" fill="#228b22"/><path d="M381.15 214.15L385.6 221.27L376.7 221.27Z" fill="#228b22"/><path d="M395.88 214.35L400.33 221.47L391.43 221.47Z" fill="#228b22"/><path d="M410.61 214.86L415.06 221.98L406.16 221.98Z" fill="#228b22"/><path d="M425.34 215.17L429.79 222.29L420.89 222.29Z" fill="#228b22"/><path d="M440.07 215.38L444.52 222.5L435.62 222.5Z" fill="#228b22"/><path d="M454.8 215.48L459.25 222.6L450.35 222.6Z" fill="#228b22"/><path d="M469.53 215.58L473.98 222.7L465.08 222.7Z" fill="#228b22"/><path d="M484.26 215.68L488.71 222.8L479.81 222.8Z" fill="#228b22"/><path d="M498.99 215.79L503.44 222.91L494.54 222.91Z" fill="#228b22"/><path d="M513.72 215.89L518.17 223.01L509.27 223.01Z" fill="#228b22"/><path d="M528.45 215.89L532.9 223.01L524 223.01Z" fill="#228b22"/><path d="M543.18 215.99L547.63 223.11L538.73 223.11Z" fill="#228b22"/></g>
<g><rect x="305.1" y="206.44" width="4.8" height="4.8" fill="#00ffff"/><rect x="319.83" y="210.03" width="4.8" height="4.8" fill="#00ffff"/><rect x="334.56" y="213.31" width="4.8" height="4.8" fill="#00ffff"/><rect x="349.29" y="214.54" width="4.8" height="4.8" fill="#00ffff"/><rect x="364.02" y="215.46" width="4.8" height="4.8" fill="#00ffff"/><rect x="378.75" y="216.29" width="4.8" height="4.8" fill="#00ffff"/><rect x="393.48" y="216.49" width="4.8" height="4.8" fill="#00ffff"/><rect x="408.21" y="217" width="4.8" height="4.8" fill="#00ffff"/><rect x="422.94" y="217.31" width="4.8" height="4.8" fill="#00ffff"/><rect x="437.67" y="217.52" width="4.8" height="4.8" fill="#00ffff"/><rect x="452.4" y="217.62" width="4.8" height="4.8" fill="#00ffff"/><rect x="467.13" y="217.72" width="4.8" height="4.8" fill="#00ffff"/><rect x="481.86" y="217.82" width="4.8" height="4.8" fill="#00ffff"/><rect x="496.59" y="217.93" width="4.8" height="4.8" fill="#00ffff"/><rect x="511.32" y="218.03" width="4.8" height="4.8" fill="#00ffff"/><rect x="526.05" y="218.03" width="4.8" height="4.8" fill="#00ffff"/><rect x="540.78" y="218.13" width="4.8" height="4.8" fill="#00ffff"/></g>
<g><circle cx="307.5" cy="209.35" r="2.4" fill="#ff8000"/><circle cx="322.23" cy="212.74" r="2.4" fill="#ff8000"/><circle cx="336.96" cy="215.71" r="2.4" fill="#ff8000"/><circle cx="351.69" cy="216.94" r="2.4" fill="#ff8000"/><circle cx="366.42" cy="217.86" r="2.4" fill="#ff8000"/><circle cx="381.15" cy="218.69" r="2.4" fill="#ff8000"/><circle cx="395.88" cy="218.89" r="2.4" fill="#ff8000"/><circle cx="410.61" cy="219.4" r="2.4" fill="#ff8000"/><circle cx="425.34" cy="219.71" r="2.4" fill="#ff8000"/><circle cx="440.07" cy="219.92" r="2.4" fill="#ff8000"/><circle cx="454.8" cy="220.02" r="2.4" fill="#ff8000"/><circle cx="469.53" cy="220.12" r="2.4" fill="#ff8000"/><circle cx="484.26" cy="220.22" r="2.4" fill="#ff8000"/><circle cx="498.99" cy="220.33" r="2.4" fill="#ff8000"/><circle cx="513.72" cy="220.43" r="2.4" fill="#ff8000"/><circle cx="528.45" cy="220.43" r="2.4" fill="#ff8000"/><circle cx="543.18" cy="220.53" r="2.4" fill="#ff8000"/></g>
<g><path d="M307.5 206.45L311.9 199.41L303.1 199.41Z" fill="#000000"/><path d="M322.23 215.58L326.63 208.54L317.83 208.54Z" fill="#000000"/><path d="M336.96 219.99L341.36 212.95L332.56 212.95Z" fill="#000000"/><path d="M351.69 221.33L356.09 214.29L347.29 214.29Z" fill="#000000"/><path d="M366.42 222.35L370.82 215.31L362.02 215.31Z" fill="#000000"/><path d="M381.15 223.17L385.55 216.13L376.75 216.13Z" fill="#000000"/><path d="M395.88 223.38L400.28 216.34L391.48 216.34Z" fill="#000000"/><path d="M410.61 223.89L415.01 216.85L406.21 216.85Z" fill="#000000"/><path d="M425.34 224.2L429.74 217.16L420.94 217.16Z" fill="#000000"/><path d="M440.07 224.4L444.47 217.36L435.67 217.36Z" fill="#000000"/><path d="M454.8 224.51L459.2 217.47L450.4 217.47Z" fill="#000000"/><path d="M469.53 224.61L473.93 217.57L465.13 217.57Z" fill="#000000"/><path d="M484.26 224.71L488.66 217.67L479.86 217.67Z" fill="#000000"/><path d="M498.99 224.81L503.39 217.77L494.59 217.77Z" fill="#000000"/><path d="M513.72 224.92L518.12 217.88L509.32 217.88Z" fill="#000000"/><path d="M528.45 224.92L532.85 217.88L524.05 217.88Z" fill="#000000"/><path d="M543.18 225.02L547.58 217.98L538.78 217.98Z" fill="#000000"/></g>
<g><path d="M311.78 205.76L305.06 201.56L305.06 209.96Z" fill="#808080"/><path d="M326.51 211.61L319.79 207.41L319.79 215.81Z" fill="#808080"/><path d="M341.24 215.51L334.52 211.31L334.52 219.71Z" fill="#808080"/><path d="M355.97 216.84L349.25 212.64L349.25 221.04Z" fill="#808080"/><path d="M370.7 217.86L363.98 213.66L363.98 222.06Z" fill="#808080"/><path d="M385.43 218.69L378.71 214.49L378.71 222.89Z" fill="#808080"/><path d="M400.16 218.89L393.44 214.69L393.44 223.09Z" fill="#808080"/><path d="M414.89 219.4L408.17 215.2L408.17 223.6Z" fill="#808080"/><path d="M429.62 219.71L422.9 215.51L422.9 223.91Z" fill="#808080"/><path d="M444.35 219.92L437.63 215.72L437.63 224.12Z" fill="#808080"/><path d="M459.08 220.02L452.36 215.82L452.36 224.22Z" fill="#808080"/><path d="M473.81 220.12L467.09 215.92L467.09 224.32Z" fill="#808080"/><path d="M488.54 220.22L481.82 216.02L481.82 224.42Z" fill="#808080"/><path d="M503.27 220.33L496.55 216.13L496.55 224.53Z" fill="#808080"/><path d="M518 220.43L511.28 216.23L511.28 224.63Z" fill="#808080"/><path d="M532.73 220.43L526.01 216.23L526.01 224.63Z" fill="#808080"/><path d="M547.46 220.53L540.74 216.33L540.74 224.73Z" fill="#808080"/></g>
<g><path d="M307.5 205.67L308.58 208.79L311.87 208.85L309.25 210.84L310.2 214L307.5 212.11L304.8 214L305.75 210.84L303.13 208.85L306.42 208.79Z" fill="#0000ff"/><path d="M322.23 208.65L323.31 211.76L326.6 211.83L323.98 213.82L324.93 216.97L322.23 215.09L319.53 216.97L320.48 213.82L317.86 211.83L321.15 211.76Z" fill="#0000ff"/><path d="M336.96 211.52L338.04 214.63L341.33 214.7L338.71 216.69L339.66 219.84L336.96 217.96L334.26 219.84L335.21 216.69L332.59 214.7L335.88 214.63Z" fill="#0000ff"/><path d="M351.69 212.75L352.77 215.86L356.06 215.93L353.44 217.92L354.39 221.07L351.69 219.19L348.99 221.07L349.94 217.92L347.32 215.93L350.61 215.86Z" fill="#0000ff"/><path d="M366.42 213.67L367.5 216.79L370.79 216.85L368.17 218.84L369.12 222L366.42 220.11L363.72 222L364.67 218.84L362.05 216.85L365.34 216.79Z" fill="#0000ff"/><path d="M381.15 214.5L382.23 217.61L385.52 217.67L382.9 219.66L383.85 222.82L381.15 220.94L378.45 222.82L379.4 219.66L376.78 217.67L380.07 217.61Z" fill="#0000ff"/><path d="M395.88 214.7L396.96 217.81L400.25 217.88L397.63 219.87L398.58 223.02L395.88 221.14L393.18 223.02L394.13 219.87L391.51 217.88L394.8 217.81Z" fill="#0000ff"/><path d="M410.61 215.21L411.69 218.32L414.98 218.39L412.36 220.38L413.31 223.54L410.61 221.65L407.91 223.54L408.86 220.38L406.24 218.39L409.53 218.32Z" fill="#0000ff"/><path d="M425.34 215.52L426.42 218.63L429.71 218.7L427.09 220.69L428.04 223.84L425.34 221.96L422.64 223.84L423.59 220.69L420.97 218.7L424.26 218.63Z" fill="#0000ff"/><path d="M440.07 215.73L441.15 218.84L444.44 218.9L441.82 220.89L442.77 224.05L440.07 222.17L437.37 224.05L438.32 220.89L435.7 218.9L438.99 218.84Z" fill="#0000ff"/><path d="M454.8 215.83L455.88 218.94L459.17 219.01L456.55 221L457.5 224.15L454.8 222.27L452.1 224.15L453.05 221L450.43 219.01L453.72 218.94Z" fill="#0000ff"/><path d="M469.53 215.93L470.61 219.04L473.9 219.11L471.28 221.1L472.23 224.25L469.53 222.37L466.83 224.25L467.78 221.1L465.16 219.11L468.45 219.04Z" fill="#0000ff"/><path d="M484.26 215.93L485.34 219.04L488.63 219.11L486.01 221.1L486.96 224.25L484.26 222.37L481.56 224.25L482.51 221.1L479.89 219.11L483.18 219.04Z" fill="#0000ff"/><path d="M498.99 215.93L500.07 219.04L503.36 219.11L500.74 221.1L501.69 224.25L498.99 222.37L496.29 224.25L497.24 221.1L494.62 219.11L497.91 219.04Z" fill="#0000ff"/><path d="M513.72 215.93L514.8 219.04L518.09 219.11L515.47 221.1L516.42 224.25L513.72 222.37L511.02 224.25L511.97 221.1L509.35 219.11L512.64 219.04Z" fill="#0000ff"/><path d="M528.45 215.93L529.53 219.04L532.82 219.11L530.2 221.1L531.15 224.25L528.45 222.37L525.75 224.25L526.7 221.1L524.08 219.11L527.37 219.04Z" fill="#0000ff"/><path d="M543.18 215.93L544.26 219.04L547.55 219.11L544.93 221.1L545.88 224.25L543.18 222.37L540.48 224.25L541.43 221.1L538.81 219.11L542.1 219.04Z" fill="#0000ff"/></g>
<rect x="474.4" y="25.25" width="63.5" height="82.2" fill="#fff" stroke="#6e6e6e" stroke-width="0.85"/>
<path d="M476.6 30.7H495.2" stroke="#e8141c" stroke-width="1.5"/>
<path d="M484 28.7L488 32.7M484 32.7L488 28.7" stroke="#e8141c" stroke-width="1.5" fill="none"/>
<text class="lg" transform="translate(497.3 33.05) scale(0.965 1)">LHM</text>
<path d="M476.6 39.74H495.2" stroke="#10f010" stroke-width="1.5"/>
<circle cx="486" cy="39.74" r="3.6" fill="#10f010"/>
<text class="lg" transform="translate(497.3 42.09) scale(0.965 1)">EPnP+GN</text>
<path d="M476.6 48.78H495.2" stroke="#ff00ff" stroke-width="1.5"/>
<path d="M486 44.18L489.8 48.78L486 53.38L482.2 48.78Z" fill="#ff00ff"/>
<text class="lg" transform="translate(497.3 51.13) scale(0.965 1)">RPnP</text>
<path d="M476.6 57.82H495.2" stroke="#228b22" stroke-width="1.5"/>
<path d="M486 53.28L490.45 60.4L481.55 60.4Z" fill="#228b22"/>
<text class="lg" transform="translate(497.3 60.17) scale(0.965 1)">DLS</text>
<path d="M476.6 66.86H495.2" stroke="#00ffff" stroke-width="1.5"/>
<rect x="483.6" y="64.46" width="4.8" height="4.8" fill="#00ffff"/>
<text class="lg" transform="translate(497.3 69.21) scale(0.965 1)">OPnP</text>
<path d="M476.6 75.9H495.2" stroke="#ff8000" stroke-width="1.5"/>
<circle cx="486" cy="75.9" r="2.4" fill="#ff8000"/>
<text class="lg" transform="translate(497.3 78.25) scale(0.965 1)">SRPnP</text>
<path d="M476.6 84.94H495.2" stroke="#000000" stroke-width="1.5"/>
<path d="M486 89.43L490.4 82.39L481.6 82.39Z" fill="#000000"/>
<text class="lg" transform="translate(497.3 87.29) scale(0.965 1)">RDLT</text>
<path d="M476.6 93.98H495.2" stroke="#808080" stroke-width="1.5"/>
<path d="M490.28 93.98L483.56 89.78L483.56 98.18Z" fill="#808080"/>
<text class="lg" transform="translate(497.3 96.33) scale(0.965 1)">ASPnP</text>
<path d="M476.6 103.02H495.2" stroke="#0000ff" stroke-width="1.5"/>
<path d="M486 98.42L487.08 101.53L490.37 101.6L487.75 103.59L488.7 106.74L486 104.86L483.3 106.74L484.25 103.59L481.63 101.6L484.92 101.53Z" fill="#0000ff"/>
<text class="lg" transform="translate(497.3 105.37) scale(0.965 1)">Hidden PnP</text>
</g>
<g id="plot-c">
<clipPath id="clipc"><rect x="27.5" y="269.1" width="235.68" height="204.95"/></clipPath>
<path d="M42.23 269.1V474.05M56.96 269.1V474.05M71.69 269.1V474.05M86.42 269.1V474.05M101.15 269.1V474.05M115.88 269.1V474.05M130.61 269.1V474.05M145.34 269.1V474.05M160.07 269.1V474.05M174.8 269.1V474.05M189.53 269.1V474.05M204.26 269.1V474.05M218.99 269.1V474.05M233.72 269.1V474.05M248.45 269.1V474.05M27.5 453.56H263.18M27.5 433.06H263.18M27.5 412.56H263.18M27.5 392.07H263.18M27.5 371.58H263.18M27.5 351.08H263.18M27.5 330.59H263.18M27.5 310.09H263.18M27.5 289.6H263.18" stroke="#e7e7e7" stroke-width="0.7" fill="none"/>
<rect x="27.5" y="269.1" width="235.68" height="204.95" fill="none" stroke="#8e8e8e" stroke-width="0.85"/>
<path d="M27.5 474.05v-2.2M27.5 269.1v2.2M42.23 474.05v-2.2M42.23 269.1v2.2M56.96 474.05v-2.2M56.96 269.1v2.2M71.69 474.05v-2.2M71.69 269.1v2.2M86.42 474.05v-2.2M86.42 269.1v2.2M101.15 474.05v-2.2M101.15 269.1v2.2M115.88 474.05v-2.2M115.88 269.1v2.2M130.61 474.05v-2.2M130.61 269.1v2.2M145.34 474.05v-2.2M145.34 269.1v2.2M160.07 474.05v-2.2M160.07 269.1v2.2M174.8 474.05v-2.2M174.8 269.1v2.2M189.53 474.05v-2.2M189.53 269.1v2.2M204.26 474.05v-2.2M204.26 269.1v2.2M218.99 474.05v-2.2M218.99 269.1v2.2M233.72 474.05v-2.2M233.72 269.1v2.2M248.45 474.05v-2.2M248.45 269.1v2.2M263.18 474.05v-2.2M263.18 269.1v2.2M27.5 474.05h2.2M263.18 474.05h-2.2M27.5 453.56h2.2M263.18 453.56h-2.2M27.5 433.06h2.2M263.18 433.06h-2.2M27.5 412.56h2.2M263.18 412.56h-2.2M27.5 392.07h2.2M263.18 392.07h-2.2M27.5 371.58h2.2M263.18 371.58h-2.2M27.5 351.08h2.2M263.18 351.08h-2.2M27.5 330.59h2.2M263.18 330.59h-2.2M27.5 310.09h2.2M263.18 310.09h-2.2M27.5 289.6h2.2M263.18 289.6h-2.2M27.5 269.1h2.2M263.18 269.1h-2.2" stroke="#888" stroke-width="0.8" fill="none"/>
<text class="tk" transform="translate(27.7 484.95) scale(0.905 1)" text-anchor="middle">4</text>
<text class="tk" transform="translate(42.43 484.95) scale(0.905 1)" text-anchor="middle">5</text>
<text class="tk" transform="translate(57.16 484.95) scale(0.905 1)" text-anchor="middle">6</text>
<text class="tk" transform="translate(71.89 484.95) scale(0.905 1)" text-anchor="middle">7</text>
<text class="tk" transform="translate(86.62 484.95) scale(0.905 1)" text-anchor="middle">8</text>
<text class="tk" transform="translate(101.35 484.95) scale(0.905 1)" text-anchor="middle">9</text>
<text class="tk" transform="translate(116.08 484.95) scale(0.905 1)" text-anchor="middle">10</text>
<text class="tk" transform="translate(130.81 484.95) scale(0.905 1)" text-anchor="middle">11</text>
<text class="tk" transform="translate(145.54 484.95) scale(0.905 1)" text-anchor="middle">12</text>
<text class="tk" transform="translate(160.27 484.95) scale(0.905 1)" text-anchor="middle">13</text>
<text class="tk" transform="translate(175 484.95) scale(0.905 1)" text-anchor="middle">14</text>
<text class="tk" transform="translate(189.73 484.95) scale(0.905 1)" text-anchor="middle">15</text>
<text class="tk" transform="translate(204.46 484.95) scale(0.905 1)" text-anchor="middle">16</text>
<text class="tk" transform="translate(219.19 484.95) scale(0.905 1)" text-anchor="middle">17</text>
<text class="tk" transform="translate(233.92 484.95) scale(0.905 1)" text-anchor="middle">18</text>
<text class="tk" transform="translate(248.65 484.95) scale(0.905 1)" text-anchor="middle">19</text>
<text class="tk" transform="translate(263.38 484.95) scale(0.905 1)" text-anchor="middle">20</text>
<text class="tk" transform="translate(24.1 478.15) scale(0.905 1)" text-anchor="end">0</text>
<text class="tk" transform="translate(24.1 456.75) scale(0.905 1)" text-anchor="end">2</text>
<text class="tk" transform="translate(24.1 436.26) scale(0.905 1)" text-anchor="end">4</text>
<text class="tk" transform="translate(24.1 415.76) scale(0.905 1)" text-anchor="end">6</text>
<text class="tk" transform="translate(24.1 395.27) scale(0.905 1)" text-anchor="end">8</text>
<text class="tk" transform="translate(24.1 374.78) scale(0.905 1)" text-anchor="end">10</text>
<text class="tk" transform="translate(24.1 354.28) scale(0.905 1)" text-anchor="end">12</text>
<text class="tk" transform="translate(24.1 333.79) scale(0.905 1)" text-anchor="end">14</text>
<text class="tk" transform="translate(24.1 313.29) scale(0.905 1)" text-anchor="end">16</text>
<text class="tk" transform="translate(24.1 292.8) scale(0.905 1)" text-anchor="end">18</text>
<text class="tk" transform="translate(24.1 272.3) scale(0.905 1)" text-anchor="end">20</text>
<text class="al" transform="translate(145.24 497.55) scale(1.03 1)" text-anchor="middle">Number of Points</text>
<text class="al" transform="translate(11.6 371.88) rotate(-90) scale(1.03 1)" text-anchor="middle">Translation Error (%)</text>
<text class="tg" transform="translate(64.5 263.2) scale(1.03 1)">(c)</text>
<text class="tt" transform="translate(79.9 264.1) scale(1.035 1)">Mean Translation Error</text>
<g clip-path="url(#clipc)">
<polyline points="27.5,352.72 42.23,397.19 56.96,406.01 71.69,425.68 86.42,429.58 101.15,434.6 115.88,437.98 130.61,439.62 145.34,443.82 160.07,445.77 174.8,447.41 189.53,447.71 204.26,447.1 218.99,450.48 233.72,452.12 248.45,450.99 263.18,451.3" fill="none" stroke="#e8141c" stroke-width="1.6" stroke-linejoin="round"/>
<polyline points="27.5,159.45 42.23,362.97 56.96,385.92 71.69,411.34 86.42,419.33 101.15,415.43 115.88,424.66 130.61,422.81 145.34,432.34 160.07,431.01 174.8,434.9 189.53,433.26 204.26,440.75 218.99,442.9 233.72,439.62 248.45,440.75 263.18,447.1" fill="none" stroke="#10f010" stroke-width="1.6" stroke-linejoin="round"/>
<polyline points="27.5,444.54 42.23,456.63 56.96,462.27 71.69,463.19 86.42,464.83 101.15,465.65 115.88,465.34 130.61,466.47 145.34,466.88 160.07,467.29 174.8,467.59 189.53,467.9 204.26,468.11 218.99,468.41 233.72,468.41 248.45,468.72 263.18,468.93" fill="none" stroke="#ff00ff" stroke-width="1.6" stroke-linejoin="round"/>
<polyline points="27.5,450.99 42.23,450.48 56.96,453.56 71.69,448.43 86.42,448.23 101.15,452.53 115.88,434.08 130.61,450.48 145.34,453.25 160.07,454.07 174.8,453.56 189.53,431.01 204.26,456.83 218.99,459.6 233.72,449.05 248.45,447.1 263.18,447.71" fill="none" stroke="#228b22" stroke-width="1.6" stroke-linejoin="round"/>
<polyline points="27.5,457.86 42.23,463.6 56.96,466.47 71.69,467.49 86.42,468.11 101.15,468.31 115.88,468.41 130.61,468.93 145.34,469.44 160.07,469.64 174.8,469.75 189.53,469.95 204.26,470.16 218.99,470.36 233.72,470.46 248.45,470.67 263.18,470.87" fill="none" stroke="#00ffff" stroke-width="1.6" stroke-linejoin="round"/>
<polyline points="27.5,457.86 42.23,463.6 56.96,466.47 71.69,467.49 86.42,468.11 101.15,468.31 115.88,468.41 130.61,468.93 145.34,469.44 160.07,469.64 174.8,469.75 189.53,469.95 204.26,470.16 218.99,470.36 233.72,470.46 248.45,470.67 263.18,470.87" fill="none" stroke="#ff8000" stroke-width="1.6" stroke-linejoin="round"/>
<polyline points="27.5,424.86 42.23,455.81 56.96,464.83 71.69,467.29 86.42,468.11 101.15,468.31 115.88,468.41 130.61,468.93 145.34,469.44 160.07,469.64 174.8,469.75 189.53,469.95 204.26,470.16 218.99,470.36 233.72,470.46 248.45,470.67 263.18,470.87" fill="none" stroke="#000000" stroke-width="1.6" stroke-linejoin="round"/>
<polyline points="27.5,447.41 42.23,459.6 56.96,464.01 71.69,466.47 86.42,467.7 101.15,468.11 115.88,468.21 130.61,468.72 145.34,469.23 160.07,469.44 174.8,469.64 189.53,469.85 204.26,470.05 218.99,470.26 233.72,470.36 248.45,470.57 263.18,470.77" fill="none" stroke="#808080" stroke-width="1.6" stroke-linejoin="round"/>
<polyline points="27.5,461.14 42.23,464.42 56.96,467.29 71.69,468.11 86.42,468.41 101.15,468.52 115.88,468.52 130.61,469.23 145.34,469.75 160.07,469.95 174.8,470.05 189.53,470.26 204.26,470.36 218.99,470.46 233.72,470.57 248.45,470.77 263.18,470.98" fill="none" stroke="#0000ff" stroke-width="1.6" stroke-linejoin="round"/>
</g>
<g><path d="M25.5 350.72L29.5 354.72M25.5 354.72L29.5 350.72" stroke="#e8141c" stroke-width="1.5" fill="none"/><path d="M40.23 395.19L44.23 399.19M40.23 399.19L44.23 395.19" stroke="#e8141c" stroke-width="1.5" fill="none"/><path d="M54.96 404.01L58.96 408.01M54.96 408.01L58.96 404.01" stroke="#e8141c" stroke-width="1.5" fill="none"/><path d="M69.69 423.68L73.69 427.68M69.69 427.68L73.69 423.68" stroke="#e8141c" stroke-width="1.5" fill="none"/><path d="M84.42 427.58L88.42 431.58M84.42 431.58L88.42 427.58" stroke="#e8141c" stroke-width="1.5" fill="none"/><path d="M99.15 432.6L103.15 436.6M99.15 436.6L103.15 432.6" stroke="#e8141c" stroke-width="1.5" fill="none"/><path d="M113.88 435.98L117.88 439.98M113.88 439.98L117.88 435.98" stroke="#e8141c" stroke-width="1.5" fill="none"/><path d="M128.61 437.62L132.61 441.62M128.61 441.62L132.61 437.62" stroke="#e8141c" stroke-width="1.5" fill="none"/><path d="M143.34 441.82L147.34 445.82M143.34 445.82L147.34 441.82" stroke="#e8141c" stroke-width="1.5" fill="none"/><path d="M158.07 443.77L162.07 447.77M158.07 447.77L162.07 443.77" stroke="#e8141c" stroke-width="1.5" fill="none"/><path d="M172.8 445.41L176.8 449.41M172.8 449.41L176.8 445.41" stroke="#e8141c" stroke-width="1.5" fill="none"/><path d="M187.53 445.71L191.53 449.71M187.53 449.71L191.53 445.71" stroke="#e8141c" stroke-width="1.5" fill="none"/><path d="M202.26 445.1L206.26 449.1M202.26 449.1L206.26 445.1" stroke="#e8141c" stroke-width="1.5" fill="none"/><path d="M216.99 448.48L220.99 452.48M216.99 452.48L220.99 448.48" stroke="#e8141c" stroke-width="1.5" fill="none"/><path d="M231.72 450.12L235.72 454.12M231.72 454.12L235.72 450.12" stroke="#e8141c" stroke-width="1.5" fill="none"/><path d="M246.45 448.99L250.45 452.99M246.45 452.99L250.45 448.99" stroke="#e8141c" stroke-width="1.5" fill="none"/><path d="M261.18 449.3L265.18 453.3M261.18 453.3L265.18 449.3" stroke="#e8141c" stroke-width="1.5" fill="none"/></g>
<g><circle cx="42.23" cy="362.97" r="3.6" fill="#10f010"/><circle cx="56.96" cy="385.92" r="3.6" fill="#10f010"/><circle cx="71.69" cy="411.34" r="3.6" fill="#10f010"/><circle cx="86.42" cy="419.33" r="3.6" fill="#10f010"/><circle cx="101.15" cy="415.43" r="3.6" fill="#10f010"/><circle cx="115.88" cy="424.66" r="3.6" fill="#10f010"/><circle cx="130.61" cy="422.81" r="3.6" fill="#10f010"/><circle cx="145.34" cy="432.34" r="3.6" fill="#10f010"/><circle cx="160.07" cy="431.01" r="3.6" fill="#10f010"/><circle cx="174.8" cy="434.9" r="3.6" fill="#10f010"/><circle cx="189.53" cy="433.26" r="3.6" fill="#10f010"/><circle cx="204.26" cy="440.75" r="3.6" fill="#10f010"/><circle cx="218.99" cy="442.9" r="3.6" fill="#10f010"/><circle cx="233.72" cy="439.62" r="3.6" fill="#10f010"/><circle cx="248.45" cy="440.75" r="3.6" fill="#10f010"/><circle cx="263.18" cy="447.1" r="3.6" fill="#10f010"/></g>
<g><path d="M27.5 439.94L31.3 444.54L27.5 449.14L23.7 444.54Z" fill="#ff00ff"/><path d="M42.23 452.03L46.03 456.63L42.23 461.23L38.43 456.63Z" fill="#ff00ff"/><path d="M56.96 457.67L60.76 462.27L56.96 466.87L53.16 462.27Z" fill="#ff00ff"/><path d="M71.69 458.59L75.49 463.19L71.69 467.79L67.89 463.19Z" fill="#ff00ff"/><path d="M86.42 460.23L90.22 464.83L86.42 469.43L82.62 464.83Z" fill="#ff00ff"/><path d="M101.15 461.05L104.95 465.65L101.15 470.25L97.35 465.65Z" fill="#ff00ff"/><path d="M115.88 460.74L119.68 465.34L115.88 469.94L112.08 465.34Z" fill="#ff00ff"/><path d="M130.61 461.87L134.41 466.47L130.61 471.07L126.81 466.47Z" fill="#ff00ff"/><path d="M145.34 462.28L149.14 466.88L145.34 471.48L141.54 466.88Z" fill="#ff00ff"/><path d="M160.07 462.69L163.87 467.29L160.07 471.89L156.27 467.29Z" fill="#ff00ff"/><path d="M174.8 462.99L178.6 467.59L174.8 472.19L171 467.59Z" fill="#ff00ff"/><path d="M189.53 463.3L193.33 467.9L189.53 472.5L185.73 467.9Z" fill="#ff00ff"/><path d="M204.26 463.51L208.06 468.11L204.26 472.71L200.46 468.11Z" fill="#ff00ff"/><path d="M218.99 463.81L222.79 468.41L218.99 473.01L215.19 468.41Z" fill="#ff00ff"/><path d="M233.72 463.81L237.52 468.41L233.72 473.01L229.92 468.41Z" fill="#ff00ff"/><path d="M248.45 464.12L252.25 468.72L248.45 473.32L244.65 468.72Z" fill="#ff00ff"/><path d="M263.18 464.33L266.98 468.93L263.18 473.53L259.38 468.93Z" fill="#ff00ff"/></g>
<g><path d="M27.5 446.45L31.95 453.57L23.05 453.57Z" fill="#228b22"/><path d="M42.23 445.94L46.68 453.06L37.78 453.06Z" fill="#228b22"/><path d="M56.96 449.02L61.41 456.14L52.51 456.14Z" fill="#228b22"/><path d="M71.69 443.89L76.14 451.01L67.24 451.01Z" fill="#228b22"/><path d="M86.42 443.69L90.87 450.81L81.97 450.81Z" fill="#228b22"/><path d="M101.15 447.99L105.6 455.11L96.7 455.11Z" fill="#228b22"/><path d="M115.88 429.55L120.33 436.67L111.43 436.67Z" fill="#228b22"/><path d="M130.61 445.94L135.06 453.06L126.16 453.06Z" fill="#228b22"/><path d="M145.34 448.71L149.79 455.83L140.89 455.83Z" fill="#228b22"/><path d="M160.07 449.53L164.52 456.65L155.62 456.65Z" fill="#228b22"/><path d="M174.8 449.02L179.25 456.14L170.35 456.14Z" fill="#228b22"/><path d="M189.53 426.47L193.98 433.59L185.08 433.59Z" fill="#228b22"/><path d="M204.26 452.3L208.71 459.42L199.81 459.42Z" fill="#228b22"/><path d="M218.99 455.06L223.44 462.18L214.54 462.18Z" fill="#228b22"/><path d="M233.72 444.51L238.17 451.63L229.27 451.63Z" fill="#228b22"/><path d="M248.45 442.56L252.9 449.68L244 449.68Z" fill="#228b22"/><path d="M263.18 443.17L267.63 450.29L258.73 450.29Z" fill="#228b22"/></g>
<g><rect x="25.1" y="455.46" width="4.8" height="4.8" fill="#00ffff"/><rect x="39.83" y="461.2" width="4.8" height="4.8" fill="#00ffff"/><rect x="54.56" y="464.07" width="4.8" height="4.8" fill="#00ffff"/><rect x="69.29" y="465.09" width="4.8" height="4.8" fill="#00ffff"/><rect x="84.02" y="465.71" width="4.8" height="4.8" fill="#00ffff"/><rect x="98.75" y="465.91" width="4.8" height="4.8" fill="#00ffff"/><rect x="113.48" y="466.01" width="4.8" height="4.8" fill="#00ffff"/><rect x="128.21" y="466.53" width="4.8" height="4.8" fill="#00ffff"/><rect x="142.94" y="467.04" width="4.8" height="4.8" fill="#00ffff"/><rect x="157.67" y="467.24" width="4.8" height="4.8" fill="#00ffff"/><rect x="172.4" y="467.35" width="4.8" height="4.8" fill="#00ffff"/><rect x="187.13" y="467.55" width="4.8" height="4.8" fill="#00ffff"/><rect x="201.86" y="467.76" width="4.8" height="4.8" fill="#00ffff"/><rect x="216.59" y="467.96" width="4.8" height="4.8" fill="#00ffff"/><rect x="231.32" y="468.06" width="4.8" height="4.8" fill="#00ffff"/><rect x="246.05" y="468.27" width="4.8" height="4.8" fill="#00ffff"/><rect x="260.78" y="468.47" width="4.8" height="4.8" fill="#00ffff"/></g>
<g><circle cx="27.5" cy="457.86" r="2.4" fill="#ff8000"/><circle cx="42.23" cy="463.6" r="2.4" fill="#ff8000"/><circle cx="56.96" cy="466.47" r="2.4" fill="#ff8000"/><circle cx="71.69" cy="467.49" r="2.4" fill="#ff8000"/><circle cx="86.42" cy="468.11" r="2.4" fill="#ff8000"/><circle cx="101.15" cy="468.31" r="2.4" fill="#ff8000"/><circle cx="115.88" cy="468.41" r="2.4" fill="#ff8000"/><circle cx="130.61" cy="468.93" r="2.4" fill="#ff8000"/><circle cx="145.34" cy="469.44" r="2.4" fill="#ff8000"/><circle cx="160.07" cy="469.64" r="2.4" fill="#ff8000"/><circle cx="174.8" cy="469.75" r="2.4" fill="#ff8000"/><circle cx="189.53" cy="469.95" r="2.4" fill="#ff8000"/><circle cx="204.26" cy="470.16" r="2.4" fill="#ff8000"/><circle cx="218.99" cy="470.36" r="2.4" fill="#ff8000"/><circle cx="233.72" cy="470.46" r="2.4" fill="#ff8000"/><circle cx="248.45" cy="470.67" r="2.4" fill="#ff8000"/><circle cx="263.18" cy="470.87" r="2.4" fill="#ff8000"/></g>
<g><path d="M27.5 429.35L31.9 422.31L23.1 422.31Z" fill="#000000"/><path d="M42.23 460.3L46.63 453.26L37.83 453.26Z" fill="#000000"/><path d="M56.96 469.32L61.36 462.28L52.56 462.28Z" fill="#000000"/><path d="M71.69 471.77L76.09 464.73L67.29 464.73Z" fill="#000000"/><path d="M86.42 472.59L90.82 465.55L82.02 465.55Z" fill="#000000"/><path d="M101.15 472.8L105.55 465.76L96.75 465.76Z" fill="#000000"/><path d="M115.88 472.9L120.28 465.86L111.48 465.86Z" fill="#000000"/><path d="M130.61 473.41L135.01 466.37L126.21 466.37Z" fill="#000000"/><path d="M145.34 473.93L149.74 466.89L140.94 466.89Z" fill="#000000"/><path d="M160.07 474.13L164.47 467.09L155.67 467.09Z" fill="#000000"/><path d="M174.8 474.23L179.2 467.19L170.4 467.19Z" fill="#000000"/><path d="M189.53 474.44L193.93 467.4L185.13 467.4Z" fill="#000000"/><path d="M204.26 474.64L208.66 467.6L199.86 467.6Z" fill="#000000"/><path d="M218.99 474.85L223.39 467.81L214.59 467.81Z" fill="#000000"/><path d="M233.72 474.95L238.12 467.91L229.32 467.91Z" fill="#000000"/><path d="M248.45 475.16L252.85 468.12L244.05 468.12Z" fill="#000000"/><path d="M263.18 475.36L267.58 468.32L258.78 468.32Z" fill="#000000"/></g>
<g><path d="M31.78 447.41L25.06 443.21L25.06 451.61Z" fill="#808080"/><path d="M46.51 459.6L39.79 455.4L39.79 463.8Z" fill="#808080"/><path d="M61.24 464.01L54.52 459.81L54.52 468.21Z" fill="#808080"/><path d="M75.97 466.47L69.25 462.27L69.25 470.67Z" fill="#808080"/><path d="M90.7 467.7L83.98 463.5L83.98 471.9Z" fill="#808080"/><path d="M105.43 468.11L98.71 463.91L98.71 472.31Z" fill="#808080"/><path d="M120.16 468.21L113.44 464.01L113.44 472.41Z" fill="#808080"/><path d="M134.89 468.72L128.17 464.52L128.17 472.92Z" fill="#808080"/><path d="M149.62 469.23L142.9 465.03L142.9 473.43Z" fill="#808080"/><path d="M164.35 469.44L157.63 465.24L157.63 473.64Z" fill="#808080"/><path d="M179.08 469.64L172.36 465.44L172.36 473.84Z" fill="#808080"/><path d="M193.81 469.85L187.09 465.65L187.09 474.05Z" fill="#808080"/><path d="M208.54 470.05L201.82 465.85L201.82 474.25Z" fill="#808080"/><path d="M223.27 470.26L216.55 466.06L216.55 474.46Z" fill="#808080"/><path d="M238 470.36L231.28 466.16L231.28 474.56Z" fill="#808080"/><path d="M252.73 470.57L246.01 466.37L246.01 474.77Z" fill="#808080"/><path d="M267.46 470.77L260.74 466.57L260.74 474.97Z" fill="#808080"/></g>
<g><path d="M27.5 456.54L28.58 459.65L31.87 459.72L29.25 461.71L30.2 464.86L27.5 462.98L24.8 464.86L25.75 461.71L23.13 459.72L26.42 459.65Z" fill="#0000ff"/><path d="M42.23 459.82L43.31 462.93L46.6 463L43.98 464.99L44.93 468.14L42.23 466.26L39.53 468.14L40.48 464.99L37.86 463L41.15 462.93Z" fill="#0000ff"/><path d="M56.96 462.69L58.04 465.8L61.33 465.87L58.71 467.86L59.66 471.01L56.96 469.13L54.26 471.01L55.21 467.86L52.59 465.87L55.88 465.8Z" fill="#0000ff"/><path d="M71.69 463.51L72.77 466.62L76.06 466.68L73.44 468.68L74.39 471.83L71.69 469.95L68.99 471.83L69.94 468.68L67.32 466.68L70.61 466.62Z" fill="#0000ff"/><path d="M86.42 463.81L87.5 466.93L90.79 466.99L88.17 468.98L89.12 472.14L86.42 470.25L83.72 472.14L84.67 468.98L82.05 466.99L85.34 466.93Z" fill="#0000ff"/><path d="M101.15 463.92L102.23 467.03L105.52 467.09L102.9 469.08L103.85 472.24L101.15 470.36L98.45 472.24L99.4 469.08L96.78 467.09L100.07 467.03Z" fill="#0000ff"/><path d="M115.88 463.92L116.96 467.03L120.25 467.09L117.63 469.08L118.58 472.24L115.88 470.36L113.18 472.24L114.13 469.08L111.51 467.09L114.8 467.03Z" fill="#0000ff"/><path d="M130.61 464.63L131.69 467.75L134.98 467.81L132.36 469.8L133.31 472.96L130.61 471.07L127.91 472.96L128.86 469.8L126.24 467.81L129.53 467.75Z" fill="#0000ff"/><path d="M145.34 465.15L146.42 468.26L149.71 468.32L147.09 470.31L148.04 473.47L145.34 471.59L142.64 473.47L143.59 470.31L140.97 468.32L144.26 468.26Z" fill="#0000ff"/><path d="M160.07 465.35L161.15 468.46L164.44 468.53L161.82 470.52L162.77 473.67L160.07 471.79L157.37 473.67L158.32 470.52L155.7 468.53L158.99 468.46Z" fill="#0000ff"/><path d="M174.8 465.45L175.88 468.56L179.17 468.63L176.55 470.62L177.5 473.77L174.8 471.89L172.1 473.77L173.05 470.62L170.43 468.63L173.72 468.56Z" fill="#0000ff"/><path d="M189.53 465.66L190.61 468.77L193.9 468.84L191.28 470.83L192.23 473.98L189.53 472.1L186.83 473.98L187.78 470.83L185.16 468.84L188.45 468.77Z" fill="#0000ff"/><path d="M204.26 465.76L205.34 468.87L208.63 468.94L206.01 470.93L206.96 474.08L204.26 472.2L201.56 474.08L202.51 470.93L199.89 468.94L203.18 468.87Z" fill="#0000ff"/><path d="M218.99 465.86L220.07 468.97L223.36 469.04L220.74 471.03L221.69 474.18L218.99 472.3L216.29 474.18L217.24 471.03L214.62 469.04L217.91 468.97Z" fill="#0000ff"/><path d="M233.72 465.97L234.8 469.08L238.09 469.14L235.47 471.13L236.42 474.29L233.72 472.41L231.02 474.29L231.97 471.13L229.35 469.14L232.64 469.08Z" fill="#0000ff"/><path d="M248.45 466.17L249.53 469.28L252.82 469.35L250.2 471.34L251.15 474.49L248.45 472.61L245.75 474.49L246.7 471.34L244.08 469.35L247.37 469.28Z" fill="#0000ff"/><path d="M263.18 466.38L264.26 469.49L267.55 469.55L264.93 471.54L265.88 474.7L263.18 472.82L260.48 474.7L261.43 471.54L258.81 469.55L262.1 469.49Z" fill="#0000ff"/></g>
<rect x="194.4" y="274.25" width="63.5" height="82.2" fill="#fff" stroke="#6e6e6e" stroke-width="0.85"/>
<path d="M196.6 279.7H215.2" stroke="#e8141c" stroke-width="1.5"/>
<path d="M204 277.7L208 281.7M204 281.7L208 277.7" stroke="#e8141c" stroke-width="1.5" fill="none"/>
<text class="lg" transform="translate(217.3 282.05) scale(0.965 1)">LHM</text>
<path d="M196.6 288.74H215.2" stroke="#10f010" stroke-width="1.5"/>
<circle cx="206" cy="288.74" r="3.6" fill="#10f010"/>
<text class="lg" transform="translate(217.3 291.09) scale(0.965 1)">EPnP+GN</text>
<path d="M196.6 297.78H215.2" stroke="#ff00ff" stroke-width="1.5"/>
<path d="M206 293.18L209.8 297.78L206 302.38L202.2 297.78Z" fill="#ff00ff"/>
<text class="lg" transform="translate(217.3 300.13) scale(0.965 1)">RPnP</text>
<path d="M196.6 306.82H215.2" stroke="#228b22" stroke-width="1.5"/>
<path d="M206 302.28L210.45 309.4L201.55 309.4Z" fill="#228b22"/>
<text class="lg" transform="translate(217.3 309.17) scale(0.965 1)">DLS</text>
<path d="M196.6 315.86H215.2" stroke="#00ffff" stroke-width="1.5"/>
<rect x="203.6" y="313.46" width="4.8" height="4.8" fill="#00ffff"/>
<text class="lg" transform="translate(217.3 318.21) scale(0.965 1)">OPnP</text>
<path d="M196.6 324.9H215.2" stroke="#ff8000" stroke-width="1.5"/>
<circle cx="206" cy="324.9" r="2.4" fill="#ff8000"/>
<text class="lg" transform="translate(217.3 327.25) scale(0.965 1)">SRPnP</text>
<path d="M196.6 333.94H215.2" stroke="#000000" stroke-width="1.5"/>
<path d="M206 338.43L210.4 331.39L201.6 331.39Z" fill="#000000"/>
<text class="lg" transform="translate(217.3 336.29) scale(0.965 1)">RDLT</text>
<path d="M196.6 342.98H215.2" stroke="#808080" stroke-width="1.5"/>
<path d="M210.28 342.98L203.56 338.78L203.56 347.18Z" fill="#808080"/>
<text class="lg" transform="translate(217.3 345.33) scale(0.965 1)">ASPnP</text>
<path d="M196.6 352.02H215.2" stroke="#0000ff" stroke-width="1.5"/>
<path d="M206 347.42L207.08 350.53L210.37 350.6L207.75 352.59L208.7 355.74L206 353.86L203.3 355.74L204.25 352.59L201.63 350.6L204.92 350.53Z" fill="#0000ff"/>
<text class="lg" transform="translate(217.3 354.37) scale(0.965 1)">Hidden PnP</text>
</g>
<g id="plot-d">
<clipPath id="clipd"><rect x="307.5" y="269.1" width="235.68" height="204.95"/></clipPath>
<path d="M322.23 269.1V474.05M336.96 269.1V474.05M351.69 269.1V474.05M366.42 269.1V474.05M381.15 269.1V474.05M395.88 269.1V474.05M410.61 269.1V474.05M425.34 269.1V474.05M440.07 269.1V474.05M454.8 269.1V474.05M469.53 269.1V474.05M484.26 269.1V474.05M498.99 269.1V474.05M513.72 269.1V474.05M528.45 269.1V474.05M307.5 453.56H543.18M307.5 433.06H543.18M307.5 412.56H543.18M307.5 392.07H543.18M307.5 371.58H543.18M307.5 351.08H543.18M307.5 330.59H543.18M307.5 310.09H543.18M307.5 289.6H543.18" stroke="#e7e7e7" stroke-width="0.7" fill="none"/>
<rect x="307.5" y="269.1" width="235.68" height="204.95" fill="none" stroke="#8e8e8e" stroke-width="0.85"/>
<path d="M307.5 474.05v-2.2M307.5 269.1v2.2M322.23 474.05v-2.2M322.23 269.1v2.2M336.96 474.05v-2.2M336.96 269.1v2.2M351.69 474.05v-2.2M351.69 269.1v2.2M366.42 474.05v-2.2M366.42 269.1v2.2M381.15 474.05v-2.2M381.15 269.1v2.2M395.88 474.05v-2.2M395.88 269.1v2.2M410.61 474.05v-2.2M410.61 269.1v2.2M425.34 474.05v-2.2M425.34 269.1v2.2M440.07 474.05v-2.2M440.07 269.1v2.2M454.8 474.05v-2.2M454.8 269.1v2.2M469.53 474.05v-2.2M469.53 269.1v2.2M484.26 474.05v-2.2M484.26 269.1v2.2M498.99 474.05v-2.2M498.99 269.1v2.2M513.72 474.05v-2.2M513.72 269.1v2.2M528.45 474.05v-2.2M528.45 269.1v2.2M543.18 474.05v-2.2M543.18 269.1v2.2M307.5 474.05h2.2M543.18 474.05h-2.2M307.5 453.56h2.2M543.18 453.56h-2.2M307.5 433.06h2.2M543.18 433.06h-2.2M307.5 412.56h2.2M543.18 412.56h-2.2M307.5 392.07h2.2M543.18 392.07h-2.2M307.5 371.58h2.2M543.18 371.58h-2.2M307.5 351.08h2.2M543.18 351.08h-2.2M307.5 330.59h2.2M543.18 330.59h-2.2M307.5 310.09h2.2M543.18 310.09h-2.2M307.5 289.6h2.2M543.18 289.6h-2.2M307.5 269.1h2.2M543.18 269.1h-2.2" stroke="#888" stroke-width="0.8" fill="none"/>
<text class="tk" transform="translate(307.7 484.95) scale(0.905 1)" text-anchor="middle">4</text>
<text class="tk" transform="translate(322.43 484.95) scale(0.905 1)" text-anchor="middle">5</text>
<text class="tk" transform="translate(337.16 484.95) scale(0.905 1)" text-anchor="middle">6</text>
<text class="tk" transform="translate(351.89 484.95) scale(0.905 1)" text-anchor="middle">7</text>
<text class="tk" transform="translate(366.62 484.95) scale(0.905 1)" text-anchor="middle">8</text>
<text class="tk" transform="translate(381.35 484.95) scale(0.905 1)" text-anchor="middle">9</text>
<text class="tk" transform="translate(396.08 484.95) scale(0.905 1)" text-anchor="middle">10</text>
<text class="tk" transform="translate(410.81 484.95) scale(0.905 1)" text-anchor="middle">11</text>
<text class="tk" transform="translate(425.54 484.95) scale(0.905 1)" text-anchor="middle">12</text>
<text class="tk" transform="translate(440.27 484.95) scale(0.905 1)" text-anchor="middle">13</text>
<text class="tk" transform="translate(455 484.95) scale(0.905 1)" text-anchor="middle">14</text>
<text class="tk" transform="translate(469.73 484.95) scale(0.905 1)" text-anchor="middle">15</text>
<text class="tk" transform="translate(484.46 484.95) scale(0.905 1)" text-anchor="middle">16</text>
<text class="tk" transform="translate(499.19 484.95) scale(0.905 1)" text-anchor="middle">17</text>
<text class="tk" transform="translate(513.92 484.95) scale(0.905 1)" text-anchor="middle">18</text>
<text class="tk" transform="translate(528.65 484.95) scale(0.905 1)" text-anchor="middle">19</text>
<text class="tk" transform="translate(543.38 484.95) scale(0.905 1)" text-anchor="middle">20</text>
<text class="tk" transform="translate(304.1 478.15) scale(0.905 1)" text-anchor="end">0</text>
<text class="tk" transform="translate(304.1 456.75) scale(0.905 1)" text-anchor="end">2</text>
<text class="tk" transform="translate(304.1 436.26) scale(0.905 1)" text-anchor="end">4</text>
<text class="tk" transform="translate(304.1 415.76) scale(0.905 1)" text-anchor="end">6</text>
<text class="tk" transform="translate(304.1 395.27) scale(0.905 1)" text-anchor="end">8</text>
<text class="tk" transform="translate(304.1 374.78) scale(0.905 1)" text-anchor="end">10</text>
<text class="tk" transform="translate(304.1 354.28) scale(0.905 1)" text-anchor="end">12</text>
<text class="tk" transform="translate(304.1 333.79) scale(0.905 1)" text-anchor="end">14</text>
<text class="tk" transform="translate(304.1 313.29) scale(0.905 1)" text-anchor="end">16</text>
<text class="tk" transform="translate(304.1 292.8) scale(0.905 1)" text-anchor="end">18</text>
<text class="tk" transform="translate(304.1 272.3) scale(0.905 1)" text-anchor="end">20</text>
<text class="al" transform="translate(425.24 497.55) scale(1.03 1)" text-anchor="middle">Number of Points</text>
<text class="al" transform="translate(291.6 371.88) rotate(-90) scale(1.03 1)" text-anchor="middle">Translation Error (%)</text>
<text class="tg" transform="translate(337 263.2) scale(1.03 1)">(d)</text>
<text class="tt" transform="translate(354.9 264.1) scale(1.035 1)">Median Translation Error</text>
<g clip-path="url(#clipd)">
<polyline points="307.5,428.35 322.23,444.43 336.96,455.09 351.69,460.83 366.42,460.32 381.15,463.39 395.88,463.8 410.61,464.31 425.34,466.67 440.07,465.85 454.8,468.11 469.53,468.62 484.26,467.9 498.99,467.9 513.72,467.9 528.45,467.29 543.18,468.72" fill="none" stroke="#e8141c" stroke-width="1.6" stroke-linejoin="round"/>
<polyline points="307.5,320.85 322.23,422.51 336.96,431.42 351.69,449.25 366.42,455.09 381.15,451.61 395.88,457.45 410.61,457.24 425.34,461.04 440.07,460.83 454.8,461.96 469.53,461.04 484.26,464.11 498.99,463.29 513.72,462.47 528.45,464.83 543.18,465.65" fill="none" stroke="#10f010" stroke-width="1.6" stroke-linejoin="round"/>
<polyline points="307.5,462.27 322.23,465.03 336.96,466.88 351.69,467.29 366.42,467.59 381.15,467.9 395.88,468.11 410.61,468.41 425.34,468.72 440.07,468.93 454.8,469.13 469.53,469.34 484.26,469.44 498.99,469.54 513.72,469.64 528.45,469.64 543.18,469.75" fill="none" stroke="#ff00ff" stroke-width="1.6" stroke-linejoin="round"/>
<polyline points="307.5,464.31 322.23,466.98 336.96,468.62 351.69,469.13" fill="none" stroke="#228b22" stroke-width="1.6" stroke-linejoin="round"/>
<polyline points="351.69,469.13 366.42,469.44 381.15,469.64 395.88,469.75 410.61,469.95 425.34,470.16 440.07,470.36 454.8,470.46 469.53,470.57 484.26,470.67 498.99,470.67 513.72,470.77 528.45,470.77 543.18,470.87" fill="none" stroke="#228b22" stroke-width="0.8" stroke-linejoin="round"/>
<polyline points="307.5,464.31 322.23,466.98 336.96,468.62 351.69,469.13" fill="none" stroke="#00ffff" stroke-width="1.6" stroke-linejoin="round"/>
<polyline points="351.69,469.13 366.42,469.44 381.15,469.64 395.88,469.75 410.61,469.95 425.34,470.16 440.07,470.36 454.8,470.46 469.53,470.57 484.26,470.67 498.99,470.67 513.72,470.77 528.45,470.77 543.18,470.87" fill="none" stroke="#00ffff" stroke-width="0.8" stroke-linejoin="round"/>
<polyline points="307.5,464.31 322.23,466.98 336.96,468.62 351.69,469.13" fill="none" stroke="#ff8000" stroke-width="1.6" stroke-linejoin="round"/>
<polyline points="351.69,469.13 366.42,469.44 381.15,469.64 395.88,469.75 410.61,469.95 425.34,470.16 440.07,470.36 454.8,470.46 469.53,470.57 484.26,470.67 498.99,470.67 513.72,470.77 528.45,470.77 543.18,470.87" fill="none" stroke="#ff8000" stroke-width="0.8" stroke-linejoin="round"/>
<polyline points="307.5,461.24 322.23,466.57 336.96,468.62 351.69,469.13" fill="none" stroke="#000000" stroke-width="1.6" stroke-linejoin="round"/>
<polyline points="351.69,469.13 366.42,469.44 381.15,469.64 395.88,469.75 410.61,469.95 425.34,470.16 440.07,470.36 454.8,470.46 469.53,470.57 484.26,470.67 498.99,470.67 513.72,470.77 528.45,470.77 543.18,470.87" fill="none" stroke="#000000" stroke-width="0.8" stroke-linejoin="round"/>
<polyline points="307.5,463.29 322.23,466.77 336.96,468.62 351.69,469.13" fill="none" stroke="#808080" stroke-width="1.6" stroke-linejoin="round"/>
<polyline points="351.69,469.13 366.42,469.44 381.15,469.64 395.88,469.75 410.61,469.95 425.34,470.16 440.07,470.36 454.8,470.46 469.53,470.57 484.26,470.67 498.99,470.67 513.72,470.77 528.45,470.77 543.18,470.87" fill="none" stroke="#808080" stroke-width="0.8" stroke-linejoin="round"/>
<polyline points="307.5,465.34 322.23,467.18 336.96,468.82 351.69,469.34 366.42,469.64 381.15,469.85 395.88,469.95 410.61,470.16 425.34,470.36 440.07,470.57 454.8,470.67 469.53,470.77 484.26,470.87 498.99,470.87 513.72,470.98 528.45,470.98 543.18,471.08" fill="none" stroke="#0000ff" stroke-width="1.6" stroke-linejoin="round"/>
</g>
<g><path d="M305.5 426.35L309.5 430.35M305.5 430.35L309.5 426.35" stroke="#e8141c" stroke-width="1.5" fill="none"/><path d="M320.23 442.43L324.23 446.43M320.23 446.43L324.23 442.43" stroke="#e8141c" stroke-width="1.5" fill="none"/><path d="M334.96 453.09L338.96 457.09M334.96 457.09L338.96 453.09" stroke="#e8141c" stroke-width="1.5" fill="none"/><path d="M349.69 458.83L353.69 462.83M349.69 462.83L353.69 458.83" stroke="#e8141c" stroke-width="1.5" fill="none"/><path d="M364.42 458.32L368.42 462.32M364.42 462.32L368.42 458.32" stroke="#e8141c" stroke-width="1.5" fill="none"/><path d="M379.15 461.39L383.15 465.39M379.15 465.39L383.15 461.39" stroke="#e8141c" stroke-width="1.5" fill="none"/><path d="M393.88 461.8L397.88 465.8M393.88 465.8L397.88 461.8" stroke="#e8141c" stroke-width="1.5" fill="none"/><path d="M408.61 462.31L412.61 466.31M408.61 466.31L412.61 462.31" stroke="#e8141c" stroke-width="1.5" fill="none"/><path d="M423.34 464.67L427.34 468.67M423.34 468.67L427.34 464.67" stroke="#e8141c" stroke-width="1.5" fill="none"/><path d="M438.07 463.85L442.07 467.85M438.07 467.85L442.07 463.85" stroke="#e8141c" stroke-width="1.5" fill="none"/><path d="M452.8 466.11L456.8 470.11M452.8 470.11L456.8 466.11" stroke="#e8141c" stroke-width="1.5" fill="none"/><path d="M467.53 466.62L471.53 470.62M467.53 470.62L471.53 466.62" stroke="#e8141c" stroke-width="1.5" fill="none"/><path d="M482.26 465.9L486.26 469.9M482.26 469.9L486.26 465.9" stroke="#e8141c" stroke-width="1.5" fill="none"/><path d="M496.99 465.9L500.99 469.9M496.99 469.9L500.99 465.9" stroke="#e8141c" stroke-width="1.5" fill="none"/><path d="M511.72 465.9L515.72 469.9M511.72 469.9L515.72 465.9" stroke="#e8141c" stroke-width="1.5" fill="none"/><path d="M526.45 465.29L530.45 469.29M526.45 469.29L530.45 465.29" stroke="#e8141c" stroke-width="1.5" fill="none"/><path d="M541.18 466.72L545.18 470.72M541.18 470.72L545.18 466.72" stroke="#e8141c" stroke-width="1.5" fill="none"/></g>
<g><circle cx="307.5" cy="320.85" r="3.6" fill="#10f010"/><circle cx="322.23" cy="422.51" r="3.6" fill="#10f010"/><circle cx="336.96" cy="431.42" r="3.6" fill="#10f010"/><circle cx="351.69" cy="449.25" r="3.6" fill="#10f010"/><circle cx="366.42" cy="455.09" r="3.6" fill="#10f010"/><circle cx="381.15" cy="451.61" r="3.6" fill="#10f010"/><circle cx="395.88" cy="457.45" r="3.6" fill="#10f010"/><circle cx="410.61" cy="457.24" r="3.6" fill="#10f010"/><circle cx="425.34" cy="461.04" r="3.6" fill="#10f010"/><circle cx="440.07" cy="460.83" r="3.6" fill="#10f010"/><circle cx="454.8" cy="461.96" r="3.6" fill="#10f010"/><circle cx="469.53" cy="461.04" r="3.6" fill="#10f010"/><circle cx="484.26" cy="464.11" r="3.6" fill="#10f010"/><circle cx="498.99" cy="463.29" r="3.6" fill="#10f010"/><circle cx="513.72" cy="462.47" r="3.6" fill="#10f010"/><circle cx="528.45" cy="464.83" r="3.6" fill="#10f010"/><circle cx="543.18" cy="465.65" r="3.6" fill="#10f010"/></g>
<g><path d="M307.5 457.67L311.3 462.27L307.5 466.87L303.7 462.27Z" fill="#ff00ff"/><path d="M322.23 460.43L326.03 465.03L322.23 469.63L318.43 465.03Z" fill="#ff00ff"/><path d="M336.96 462.28L340.76 466.88L336.96 471.48L333.16 466.88Z" fill="#ff00ff"/><path d="M351.69 462.69L355.49 467.29L351.69 471.89L347.89 467.29Z" fill="#ff00ff"/><path d="M366.42 462.99L370.22 467.59L366.42 472.19L362.62 467.59Z" fill="#ff00ff"/><path d="M381.15 463.3L384.95 467.9L381.15 472.5L377.35 467.9Z" fill="#ff00ff"/><path d="M395.88 463.51L399.68 468.11L395.88 472.71L392.08 468.11Z" fill="#ff00ff"/><path d="M410.61 463.81L414.41 468.41L410.61 473.01L406.81 468.41Z" fill="#ff00ff"/><path d="M425.34 464.12L429.14 468.72L425.34 473.32L421.54 468.72Z" fill="#ff00ff"/><path d="M440.07 464.33L443.87 468.93L440.07 473.53L436.27 468.93Z" fill="#ff00ff"/><path d="M454.8 464.53L458.6 469.13L454.8 473.73L451 469.13Z" fill="#ff00ff"/><path d="M469.53 464.74L473.33 469.34L469.53 473.94L465.73 469.34Z" fill="#ff00ff"/><path d="M484.26 464.84L488.06 469.44L484.26 474.04L480.46 469.44Z" fill="#ff00ff"/><path d="M498.99 464.94L502.79 469.54L498.99 474.14L495.19 469.54Z" fill="#ff00ff"/><path d="M513.72 465.04L517.52 469.64L513.72 474.24L509.92 469.64Z" fill="#ff00ff"/><path d="M528.45 465.04L532.25 469.64L528.45 474.24L524.65 469.64Z" fill="#ff00ff"/><path d="M543.18 465.15L546.98 469.75L543.18 474.35L539.38 469.75Z" fill="#ff00ff"/></g>
<g><path d="M307.5 459.78L311.95 466.9L303.05 466.9Z" fill="#228b22"/><path d="M322.23 462.44L326.68 469.56L317.78 469.56Z" fill="#228b22"/><path d="M336.96 464.08L341.41 471.2L332.51 471.2Z" fill="#228b22"/><path d="M351.69 464.59L356.14 471.71L347.24 471.71Z" fill="#228b22"/><path d="M366.42 464.9L370.87 472.02L361.97 472.02Z" fill="#228b22"/><path d="M381.15 465.1L385.6 472.22L376.7 472.22Z" fill="#228b22"/><path d="M395.88 465.21L400.33 472.33L391.43 472.33Z" fill="#228b22"/><path d="M410.61 465.41L415.06 472.53L406.16 472.53Z" fill="#228b22"/><path d="M425.34 465.62L429.79 472.74L420.89 472.74Z" fill="#228b22"/><path d="M440.07 465.82L444.52 472.94L435.62 472.94Z" fill="#228b22"/><path d="M454.8 465.92L459.25 473.04L450.35 473.04Z" fill="#228b22"/><path d="M469.53 466.03L473.98 473.15L465.08 473.15Z" fill="#228b22"/><path d="M484.26 466.13L488.71 473.25L479.81 473.25Z" fill="#228b22"/><path d="M498.99 466.13L503.44 473.25L494.54 473.25Z" fill="#228b22"/><path d="M513.72 466.23L518.17 473.35L509.27 473.35Z" fill="#228b22"/><path d="M528.45 466.23L532.9 473.35L524 473.35Z" fill="#228b22"/><path d="M543.18 466.33L547.63 473.45L538.73 473.45Z" fill="#228b22"/></g>
<g><rect x="305.1" y="461.91" width="4.8" height="4.8" fill="#00ffff"/><rect x="319.83" y="464.58" width="4.8" height="4.8" fill="#00ffff"/><rect x="334.56" y="466.22" width="4.8" height="4.8" fill="#00ffff"/><rect x="349.29" y="466.73" width="4.8" height="4.8" fill="#00ffff"/><rect x="364.02" y="467.04" width="4.8" height="4.8" fill="#00ffff"/><rect x="378.75" y="467.24" width="4.8" height="4.8" fill="#00ffff"/><rect x="393.48" y="467.35" width="4.8" height="4.8" fill="#00ffff"/><rect x="408.21" y="467.55" width="4.8" height="4.8" fill="#00ffff"/><rect x="422.94" y="467.76" width="4.8" height="4.8" fill="#00ffff"/><rect x="437.67" y="467.96" width="4.8" height="4.8" fill="#00ffff"/><rect x="452.4" y="468.06" width="4.8" height="4.8" fill="#00ffff"/><rect x="467.13" y="468.17" width="4.8" height="4.8" fill="#00ffff"/><rect x="481.86" y="468.27" width="4.8" height="4.8" fill="#00ffff"/><rect x="496.59" y="468.27" width="4.8" height="4.8" fill="#00ffff"/><rect x="511.32" y="468.37" width="4.8" height="4.8" fill="#00ffff"/><rect x="526.05" y="468.37" width="4.8" height="4.8" fill="#00ffff"/><rect x="540.78" y="468.47" width="4.8" height="4.8" fill="#00ffff"/></g>
<g><circle cx="307.5" cy="464.31" r="2.4" fill="#ff8000"/><circle cx="322.23" cy="466.98" r="2.4" fill="#ff8000"/><circle cx="336.96" cy="468.62" r="2.4" fill="#ff8000"/><circle cx="351.69" cy="469.13" r="2.4" fill="#ff8000"/><circle cx="366.42" cy="469.44" r="2.4" fill="#ff8000"/><circle cx="381.15" cy="469.64" r="2.4" fill="#ff8000"/><circle cx="395.88" cy="469.75" r="2.4" fill="#ff8000"/><circle cx="410.61" cy="469.95" r="2.4" fill="#ff8000"/><circle cx="425.34" cy="470.16" r="2.4" fill="#ff8000"/><circle cx="440.07" cy="470.36" r="2.4" fill="#ff8000"/><circle cx="454.8" cy="470.46" r="2.4" fill="#ff8000"/><circle cx="469.53" cy="470.57" r="2.4" fill="#ff8000"/><circle cx="484.26" cy="470.67" r="2.4" fill="#ff8000"/><circle cx="498.99" cy="470.67" r="2.4" fill="#ff8000"/><circle cx="513.72" cy="470.77" r="2.4" fill="#ff8000"/><circle cx="528.45" cy="470.77" r="2.4" fill="#ff8000"/><circle cx="543.18" cy="470.87" r="2.4" fill="#ff8000"/></g>
<g><path d="M307.5 465.73L311.9 458.69L303.1 458.69Z" fill="#000000"/><path d="M322.23 471.06L326.63 464.02L317.83 464.02Z" fill="#000000"/><path d="M336.96 473.11L341.36 466.07L332.56 466.07Z" fill="#000000"/><path d="M351.69 473.62L356.09 466.58L347.29 466.58Z" fill="#000000"/><path d="M366.42 473.93L370.82 466.89L362.02 466.89Z" fill="#000000"/><path d="M381.15 474.13L385.55 467.09L376.75 467.09Z" fill="#000000"/><path d="M395.88 474.23L400.28 467.19L391.48 467.19Z" fill="#000000"/><path d="M410.61 474.44L415.01 467.4L406.21 467.4Z" fill="#000000"/><path d="M425.34 474.64L429.74 467.6L420.94 467.6Z" fill="#000000"/><path d="M440.07 474.85L444.47 467.81L435.67 467.81Z" fill="#000000"/><path d="M454.8 474.95L459.2 467.91L450.4 467.91Z" fill="#000000"/><path d="M469.53 475.05L473.93 468.01L465.13 468.01Z" fill="#000000"/><path d="M484.26 475.16L488.66 468.12L479.86 468.12Z" fill="#000000"/><path d="M498.99 475.16L503.39 468.12L494.59 468.12Z" fill="#000000"/><path d="M513.72 475.26L518.12 468.22L509.32 468.22Z" fill="#000000"/><path d="M528.45 475.26L532.85 468.22L524.05 468.22Z" fill="#000000"/><path d="M543.18 475.36L547.58 468.32L538.78 468.32Z" fill="#000000"/></g>
<g><path d="M311.78 463.29L305.06 459.09L305.06 467.49Z" fill="#808080"/><path d="M326.51 466.77L319.79 462.57L319.79 470.97Z" fill="#808080"/><path d="M341.24 468.62L334.52 464.42L334.52 472.82Z" fill="#808080"/><path d="M355.97 469.13L349.25 464.93L349.25 473.33Z" fill="#808080"/><path d="M370.7 469.44L363.98 465.24L363.98 473.64Z" fill="#808080"/><path d="M385.43 469.64L378.71 465.44L378.71 473.84Z" fill="#808080"/><path d="M400.16 469.75L393.44 465.55L393.44 473.95Z" fill="#808080"/><path d="M414.89 469.95L408.17 465.75L408.17 474.15Z" fill="#808080"/><path d="M429.62 470.16L422.9 465.96L422.9 474.36Z" fill="#808080"/><path d="M444.35 470.36L437.63 466.16L437.63 474.56Z" fill="#808080"/><path d="M459.08 470.46L452.36 466.26L452.36 474.66Z" fill="#808080"/><path d="M473.81 470.57L467.09 466.37L467.09 474.77Z" fill="#808080"/><path d="M488.54 470.67L481.82 466.47L481.82 474.87Z" fill="#808080"/><path d="M503.27 470.67L496.55 466.47L496.55 474.87Z" fill="#808080"/><path d="M518 470.77L511.28 466.57L511.28 474.97Z" fill="#808080"/><path d="M532.73 470.77L526.01 466.57L526.01 474.97Z" fill="#808080"/><path d="M547.46 470.87L540.74 466.67L540.74 475.07Z" fill="#808080"/></g>
<g><path d="M307.5 460.74L308.58 463.85L311.87 463.92L309.25 465.91L310.2 469.06L307.5 467.18L304.8 469.06L305.75 465.91L303.13 463.92L306.42 463.85Z" fill="#0000ff"/><path d="M322.23 462.58L323.31 465.7L326.6 465.76L323.98 467.75L324.93 470.91L322.23 469.02L319.53 470.91L320.48 467.75L317.86 465.76L321.15 465.7Z" fill="#0000ff"/><path d="M336.96 464.22L338.04 467.34L341.33 467.4L338.71 469.39L339.66 472.55L336.96 470.66L334.26 472.55L335.21 469.39L332.59 467.4L335.88 467.34Z" fill="#0000ff"/><path d="M351.69 464.74L352.77 467.85L356.06 467.91L353.44 469.9L354.39 473.06L351.69 471.18L348.99 473.06L349.94 469.9L347.32 467.91L350.61 467.85Z" fill="#0000ff"/><path d="M366.42 465.04L367.5 468.15L370.79 468.22L368.17 470.21L369.12 473.37L366.42 471.48L363.72 473.37L364.67 470.21L362.05 468.22L365.34 468.15Z" fill="#0000ff"/><path d="M381.15 465.25L382.23 468.36L385.52 468.43L382.9 470.42L383.85 473.57L381.15 471.69L378.45 473.57L379.4 470.42L376.78 468.43L380.07 468.36Z" fill="#0000ff"/><path d="M395.88 465.35L396.96 468.46L400.25 468.53L397.63 470.52L398.58 473.67L395.88 471.79L393.18 473.67L394.13 470.52L391.51 468.53L394.8 468.46Z" fill="#0000ff"/><path d="M410.61 465.56L411.69 468.67L414.98 468.73L412.36 470.72L413.31 473.88L410.61 472L407.91 473.88L408.86 470.72L406.24 468.73L409.53 468.67Z" fill="#0000ff"/><path d="M425.34 465.76L426.42 468.87L429.71 468.94L427.09 470.93L428.04 474.08L425.34 472.2L422.64 474.08L423.59 470.93L420.97 468.94L424.26 468.87Z" fill="#0000ff"/><path d="M440.07 465.97L441.15 469.08L444.44 469.14L441.82 471.13L442.77 474.29L440.07 472.41L437.37 474.29L438.32 471.13L435.7 469.14L438.99 469.08Z" fill="#0000ff"/><path d="M454.8 466.07L455.88 469.18L459.17 469.25L456.55 471.24L457.5 474.39L454.8 472.51L452.1 474.39L453.05 471.24L450.43 469.25L453.72 469.18Z" fill="#0000ff"/><path d="M469.53 466.17L470.61 469.28L473.9 469.35L471.28 471.34L472.23 474.49L469.53 472.61L466.83 474.49L467.78 471.34L465.16 469.35L468.45 469.28Z" fill="#0000ff"/><path d="M484.26 466.27L485.34 469.38L488.63 469.45L486.01 471.44L486.96 474.59L484.26 472.71L481.56 474.59L482.51 471.44L479.89 469.45L483.18 469.38Z" fill="#0000ff"/><path d="M498.99 466.27L500.07 469.38L503.36 469.45L500.74 471.44L501.69 474.59L498.99 472.71L496.29 474.59L497.24 471.44L494.62 469.45L497.91 469.38Z" fill="#0000ff"/><path d="M513.72 466.38L514.8 469.49L518.09 469.55L515.47 471.54L516.42 474.7L513.72 472.82L511.02 474.7L511.97 471.54L509.35 469.55L512.64 469.49Z" fill="#0000ff"/><path d="M528.45 466.38L529.53 469.49L532.82 469.55L530.2 471.54L531.15 474.7L528.45 472.82L525.75 474.7L526.7 471.54L524.08 469.55L527.37 469.49Z" fill="#0000ff"/><path d="M543.18 466.48L544.26 469.59L547.55 469.66L544.93 471.65L545.88 474.8L543.18 472.92L540.48 474.8L541.43 471.65L538.81 469.66L542.1 469.59Z" fill="#0000ff"/></g>
<rect x="474.4" y="274.25" width="63.5" height="82.2" fill="#fff" stroke="#6e6e6e" stroke-width="0.85"/>
<path d="M476.6 279.7H495.2" stroke="#e8141c" stroke-width="1.5"/>
<path d="M484 277.7L488 281.7M484 281.7L488 277.7" stroke="#e8141c" stroke-width="1.5" fill="none"/>
<text class="lg" transform="translate(497.3 282.05) scale(0.965 1)">LHM</text>
<path d="M476.6 288.74H495.2" stroke="#10f010" stroke-width="1.5"/>
<circle cx="486" cy="288.74" r="3.6" fill="#10f010"/>
<text class="lg" transform="translate(497.3 291.09) scale(0.965 1)">EPnP+GN</text>
<path d="M476.6 297.78H495.2" stroke="#ff00ff" stroke-width="1.5"/>
<path d="M486 293.18L489.8 297.78L486 302.38L482.2 297.78Z" fill="#ff00ff"/>
<text class="lg" transform="translate(497.3 300.13) scale(0.965 1)">RPnP</text>
<path d="M476.6 306.82H495.2" stroke="#228b22" stroke-width="1.5"/>
<path d="M486 302.28L490.45 309.4L481.55 309.4Z" fill="#228b22"/>
<text class="lg" transform="translate(497.3 309.17) scale(0.965 1)">DLS</text>
<path d="M476.6 315.86H495.2" stroke="#00ffff" stroke-width="1.5"/>
<rect x="483.6" y="313.46" width="4.8" height="4.8" fill="#00ffff"/>
<text class="lg" transform="translate(497.3 318.21) scale(0.965 1)">OPnP</text>
<path d="M476.6 324.9H495.2" stroke="#ff8000" stroke-width="1.5"/>
<circle cx="486" cy="324.9" r="2.4" fill="#ff8000"/>
<text class="lg" transform="translate(497.3 327.25) scale(0.965 1)">SRPnP</text>
<path d="M476.6 333.94H495.2" stroke="#000000" stroke-width="1.5"/>
<path d="M486 338.43L490.4 331.39L481.6 331.39Z" fill="#000000"/>
<text class="lg" transform="translate(497.3 336.29) scale(0.965 1)">RDLT</text>
<path d="M476.6 342.98H495.2" stroke="#808080" stroke-width="1.5"/>
<path d="M490.28 342.98L483.56 338.78L483.56 347.18Z" fill="#808080"/>
<text class="lg" transform="translate(497.3 345.33) scale(0.965 1)">ASPnP</text>
<path d="M476.6 352.02H495.2" stroke="#0000ff" stroke-width="1.5"/>
<path d="M486 347.42L487.08 350.53L490.37 350.6L487.75 352.59L488.7 355.74L486 353.86L483.3 355.74L484.25 352.59L481.63 350.6L484.92 350.53Z" fill="#0000ff"/>
<text class="lg" transform="translate(497.3 354.37) scale(0.965 1)">Hidden PnP</text>
</g>
</g>
</svg></body></html>
